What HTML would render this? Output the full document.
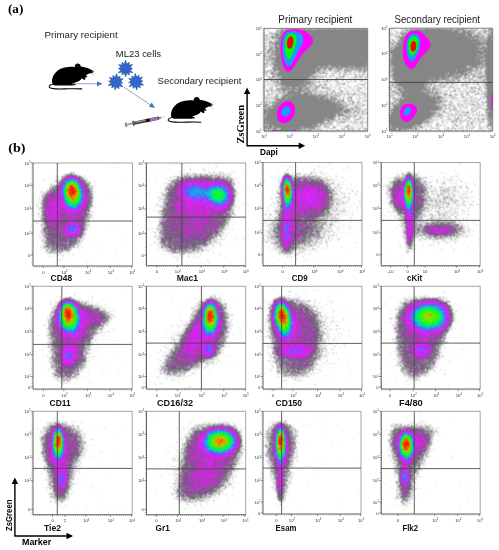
<!DOCTYPE html>
<html lang="en"><head><meta charset="utf-8"><title>Figure</title>
<style>html,body{margin:0;padding:0;background:#fff}svg{display:block}text{font-family:"Liberation Sans",sans-serif}.se{font-family:"Liberation Serif",serif;font-weight:bold}.b{font-weight:bold}.tk{font-size:4.2px;fill:#333}</style>
</head><body>
<svg width="499" height="550" viewBox="0 0 499 550">
<defs>
<radialGradient id="g" cx="0.5" cy="0.5" r="0.5" fx="0.5" fy="0.5">
<stop offset="0.000" stop-color="#fff" stop-opacity="1.000"/>
<stop offset="0.083" stop-color="#fff" stop-opacity="0.978"/>
<stop offset="0.167" stop-color="#fff" stop-opacity="0.913"/>
<stop offset="0.250" stop-color="#fff" stop-opacity="0.814"/>
<stop offset="0.333" stop-color="#fff" stop-opacity="0.693"/>
<stop offset="0.417" stop-color="#fff" stop-opacity="0.562"/>
<stop offset="0.500" stop-color="#fff" stop-opacity="0.433"/>
<stop offset="0.583" stop-color="#fff" stop-opacity="0.315"/>
<stop offset="0.667" stop-color="#fff" stop-opacity="0.215"/>
<stop offset="0.750" stop-color="#fff" stop-opacity="0.134"/>
<stop offset="0.833" stop-color="#fff" stop-opacity="0.073"/>
<stop offset="0.917" stop-color="#fff" stop-opacity="0.030"/>
<stop offset="1.000" stop-color="#fff" stop-opacity="0.000"/>
</radialGradient>
<radialGradient id="g1" cx="0.5" cy="0.5" r="0.5" fx="0.5" fy="0.4">
<stop offset="0.000" stop-color="#fff" stop-opacity="1.000"/>
<stop offset="0.083" stop-color="#fff" stop-opacity="0.978"/>
<stop offset="0.167" stop-color="#fff" stop-opacity="0.913"/>
<stop offset="0.250" stop-color="#fff" stop-opacity="0.814"/>
<stop offset="0.333" stop-color="#fff" stop-opacity="0.693"/>
<stop offset="0.417" stop-color="#fff" stop-opacity="0.562"/>
<stop offset="0.500" stop-color="#fff" stop-opacity="0.433"/>
<stop offset="0.583" stop-color="#fff" stop-opacity="0.315"/>
<stop offset="0.667" stop-color="#fff" stop-opacity="0.215"/>
<stop offset="0.750" stop-color="#fff" stop-opacity="0.134"/>
<stop offset="0.833" stop-color="#fff" stop-opacity="0.073"/>
<stop offset="0.917" stop-color="#fff" stop-opacity="0.030"/>
<stop offset="1.000" stop-color="#fff" stop-opacity="0.000"/>
</radialGradient>
<radialGradient id="g2" cx="0.5" cy="0.5" r="0.5" fx="0.5" fy="0.3">
<stop offset="0.000" stop-color="#fff" stop-opacity="1.000"/>
<stop offset="0.083" stop-color="#fff" stop-opacity="0.978"/>
<stop offset="0.167" stop-color="#fff" stop-opacity="0.913"/>
<stop offset="0.250" stop-color="#fff" stop-opacity="0.814"/>
<stop offset="0.333" stop-color="#fff" stop-opacity="0.693"/>
<stop offset="0.417" stop-color="#fff" stop-opacity="0.562"/>
<stop offset="0.500" stop-color="#fff" stop-opacity="0.433"/>
<stop offset="0.583" stop-color="#fff" stop-opacity="0.315"/>
<stop offset="0.667" stop-color="#fff" stop-opacity="0.215"/>
<stop offset="0.750" stop-color="#fff" stop-opacity="0.134"/>
<stop offset="0.833" stop-color="#fff" stop-opacity="0.073"/>
<stop offset="0.917" stop-color="#fff" stop-opacity="0.030"/>
<stop offset="1.000" stop-color="#fff" stop-opacity="0.000"/>
</radialGradient>
<radialGradient id="g3" cx="0.5" cy="0.5" r="0.5" fx="0.5" fy="0.2">
<stop offset="0.000" stop-color="#fff" stop-opacity="1.000"/>
<stop offset="0.083" stop-color="#fff" stop-opacity="0.978"/>
<stop offset="0.167" stop-color="#fff" stop-opacity="0.913"/>
<stop offset="0.250" stop-color="#fff" stop-opacity="0.814"/>
<stop offset="0.333" stop-color="#fff" stop-opacity="0.693"/>
<stop offset="0.417" stop-color="#fff" stop-opacity="0.562"/>
<stop offset="0.500" stop-color="#fff" stop-opacity="0.433"/>
<stop offset="0.583" stop-color="#fff" stop-opacity="0.315"/>
<stop offset="0.667" stop-color="#fff" stop-opacity="0.215"/>
<stop offset="0.750" stop-color="#fff" stop-opacity="0.134"/>
<stop offset="0.833" stop-color="#fff" stop-opacity="0.073"/>
<stop offset="0.917" stop-color="#fff" stop-opacity="0.030"/>
<stop offset="1.000" stop-color="#fff" stop-opacity="0.000"/>
</radialGradient>
<radialGradient id="p" cx="0.5" cy="0.5" r="0.5" fx="0.5" fy="0.5">
<stop offset="0.000" stop-color="#fff" stop-opacity="1.000"/>
<stop offset="0.083" stop-color="#fff" stop-opacity="0.990"/>
<stop offset="0.167" stop-color="#fff" stop-opacity="0.959"/>
<stop offset="0.250" stop-color="#fff" stop-opacity="0.908"/>
<stop offset="0.333" stop-color="#fff" stop-opacity="0.838"/>
<stop offset="0.417" stop-color="#fff" stop-opacity="0.751"/>
<stop offset="0.500" stop-color="#fff" stop-opacity="0.650"/>
<stop offset="0.583" stop-color="#fff" stop-opacity="0.536"/>
<stop offset="0.667" stop-color="#fff" stop-opacity="0.414"/>
<stop offset="0.750" stop-color="#fff" stop-opacity="0.289"/>
<stop offset="0.833" stop-color="#fff" stop-opacity="0.169"/>
<stop offset="0.917" stop-color="#fff" stop-opacity="0.064"/>
<stop offset="1.000" stop-color="#fff" stop-opacity="0.000"/>
</radialGradient>
<radialGradient id="p1" cx="0.5" cy="0.5" r="0.5" fx="0.5" fy="0.4">
<stop offset="0.000" stop-color="#fff" stop-opacity="1.000"/>
<stop offset="0.083" stop-color="#fff" stop-opacity="0.990"/>
<stop offset="0.167" stop-color="#fff" stop-opacity="0.959"/>
<stop offset="0.250" stop-color="#fff" stop-opacity="0.908"/>
<stop offset="0.333" stop-color="#fff" stop-opacity="0.838"/>
<stop offset="0.417" stop-color="#fff" stop-opacity="0.751"/>
<stop offset="0.500" stop-color="#fff" stop-opacity="0.650"/>
<stop offset="0.583" stop-color="#fff" stop-opacity="0.536"/>
<stop offset="0.667" stop-color="#fff" stop-opacity="0.414"/>
<stop offset="0.750" stop-color="#fff" stop-opacity="0.289"/>
<stop offset="0.833" stop-color="#fff" stop-opacity="0.169"/>
<stop offset="0.917" stop-color="#fff" stop-opacity="0.064"/>
<stop offset="1.000" stop-color="#fff" stop-opacity="0.000"/>
</radialGradient>
<radialGradient id="p2" cx="0.5" cy="0.5" r="0.5" fx="0.5" fy="0.3">
<stop offset="0.000" stop-color="#fff" stop-opacity="1.000"/>
<stop offset="0.083" stop-color="#fff" stop-opacity="0.990"/>
<stop offset="0.167" stop-color="#fff" stop-opacity="0.959"/>
<stop offset="0.250" stop-color="#fff" stop-opacity="0.908"/>
<stop offset="0.333" stop-color="#fff" stop-opacity="0.838"/>
<stop offset="0.417" stop-color="#fff" stop-opacity="0.751"/>
<stop offset="0.500" stop-color="#fff" stop-opacity="0.650"/>
<stop offset="0.583" stop-color="#fff" stop-opacity="0.536"/>
<stop offset="0.667" stop-color="#fff" stop-opacity="0.414"/>
<stop offset="0.750" stop-color="#fff" stop-opacity="0.289"/>
<stop offset="0.833" stop-color="#fff" stop-opacity="0.169"/>
<stop offset="0.917" stop-color="#fff" stop-opacity="0.064"/>
<stop offset="1.000" stop-color="#fff" stop-opacity="0.000"/>
</radialGradient>
<radialGradient id="p3" cx="0.5" cy="0.5" r="0.5" fx="0.5" fy="0.2">
<stop offset="0.000" stop-color="#fff" stop-opacity="1.000"/>
<stop offset="0.083" stop-color="#fff" stop-opacity="0.990"/>
<stop offset="0.167" stop-color="#fff" stop-opacity="0.959"/>
<stop offset="0.250" stop-color="#fff" stop-opacity="0.908"/>
<stop offset="0.333" stop-color="#fff" stop-opacity="0.838"/>
<stop offset="0.417" stop-color="#fff" stop-opacity="0.751"/>
<stop offset="0.500" stop-color="#fff" stop-opacity="0.650"/>
<stop offset="0.583" stop-color="#fff" stop-opacity="0.536"/>
<stop offset="0.667" stop-color="#fff" stop-opacity="0.414"/>
<stop offset="0.750" stop-color="#fff" stop-opacity="0.289"/>
<stop offset="0.833" stop-color="#fff" stop-opacity="0.169"/>
<stop offset="0.917" stop-color="#fff" stop-opacity="0.064"/>
<stop offset="1.000" stop-color="#fff" stop-opacity="0.000"/>
</radialGradient>
<radialGradient id="f" cx="0.5" cy="0.5" r="0.5" fx="0.5" fy="0.5">
<stop offset="0.000" stop-color="#fff" stop-opacity="1.000"/>
<stop offset="0.083" stop-color="#fff" stop-opacity="1.000"/>
<stop offset="0.167" stop-color="#fff" stop-opacity="1.000"/>
<stop offset="0.250" stop-color="#fff" stop-opacity="1.000"/>
<stop offset="0.333" stop-color="#fff" stop-opacity="1.000"/>
<stop offset="0.417" stop-color="#fff" stop-opacity="1.000"/>
<stop offset="0.500" stop-color="#fff" stop-opacity="1.000"/>
<stop offset="0.583" stop-color="#fff" stop-opacity="0.987"/>
<stop offset="0.667" stop-color="#fff" stop-opacity="0.843"/>
<stop offset="0.750" stop-color="#fff" stop-opacity="0.587"/>
<stop offset="0.833" stop-color="#fff" stop-opacity="0.302"/>
<stop offset="0.917" stop-color="#fff" stop-opacity="0.082"/>
<stop offset="1.000" stop-color="#fff" stop-opacity="0.000"/>
</radialGradient>
<radialGradient id="f1" cx="0.5" cy="0.5" r="0.5" fx="0.5" fy="0.4">
<stop offset="0.000" stop-color="#fff" stop-opacity="1.000"/>
<stop offset="0.083" stop-color="#fff" stop-opacity="1.000"/>
<stop offset="0.167" stop-color="#fff" stop-opacity="1.000"/>
<stop offset="0.250" stop-color="#fff" stop-opacity="1.000"/>
<stop offset="0.333" stop-color="#fff" stop-opacity="1.000"/>
<stop offset="0.417" stop-color="#fff" stop-opacity="1.000"/>
<stop offset="0.500" stop-color="#fff" stop-opacity="1.000"/>
<stop offset="0.583" stop-color="#fff" stop-opacity="0.987"/>
<stop offset="0.667" stop-color="#fff" stop-opacity="0.843"/>
<stop offset="0.750" stop-color="#fff" stop-opacity="0.587"/>
<stop offset="0.833" stop-color="#fff" stop-opacity="0.302"/>
<stop offset="0.917" stop-color="#fff" stop-opacity="0.082"/>
<stop offset="1.000" stop-color="#fff" stop-opacity="0.000"/>
</radialGradient>
<radialGradient id="f2" cx="0.5" cy="0.5" r="0.5" fx="0.5" fy="0.3">
<stop offset="0.000" stop-color="#fff" stop-opacity="1.000"/>
<stop offset="0.083" stop-color="#fff" stop-opacity="1.000"/>
<stop offset="0.167" stop-color="#fff" stop-opacity="1.000"/>
<stop offset="0.250" stop-color="#fff" stop-opacity="1.000"/>
<stop offset="0.333" stop-color="#fff" stop-opacity="1.000"/>
<stop offset="0.417" stop-color="#fff" stop-opacity="1.000"/>
<stop offset="0.500" stop-color="#fff" stop-opacity="1.000"/>
<stop offset="0.583" stop-color="#fff" stop-opacity="0.987"/>
<stop offset="0.667" stop-color="#fff" stop-opacity="0.843"/>
<stop offset="0.750" stop-color="#fff" stop-opacity="0.587"/>
<stop offset="0.833" stop-color="#fff" stop-opacity="0.302"/>
<stop offset="0.917" stop-color="#fff" stop-opacity="0.082"/>
<stop offset="1.000" stop-color="#fff" stop-opacity="0.000"/>
</radialGradient>
<radialGradient id="f3" cx="0.5" cy="0.5" r="0.5" fx="0.5" fy="0.2">
<stop offset="0.000" stop-color="#fff" stop-opacity="1.000"/>
<stop offset="0.083" stop-color="#fff" stop-opacity="1.000"/>
<stop offset="0.167" stop-color="#fff" stop-opacity="1.000"/>
<stop offset="0.250" stop-color="#fff" stop-opacity="1.000"/>
<stop offset="0.333" stop-color="#fff" stop-opacity="1.000"/>
<stop offset="0.417" stop-color="#fff" stop-opacity="1.000"/>
<stop offset="0.500" stop-color="#fff" stop-opacity="1.000"/>
<stop offset="0.583" stop-color="#fff" stop-opacity="0.987"/>
<stop offset="0.667" stop-color="#fff" stop-opacity="0.843"/>
<stop offset="0.750" stop-color="#fff" stop-opacity="0.587"/>
<stop offset="0.833" stop-color="#fff" stop-opacity="0.302"/>
<stop offset="0.917" stop-color="#fff" stop-opacity="0.082"/>
<stop offset="1.000" stop-color="#fff" stop-opacity="0.000"/>
</radialGradient>
<radialGradient id="kg"><stop offset="0.000" stop-color="#000" stop-opacity="1.000"/><stop offset="0.083" stop-color="#000" stop-opacity="0.978"/><stop offset="0.167" stop-color="#000" stop-opacity="0.913"/><stop offset="0.250" stop-color="#000" stop-opacity="0.814"/><stop offset="0.333" stop-color="#000" stop-opacity="0.693"/><stop offset="0.417" stop-color="#000" stop-opacity="0.562"/><stop offset="0.500" stop-color="#000" stop-opacity="0.433"/><stop offset="0.583" stop-color="#000" stop-opacity="0.315"/><stop offset="0.667" stop-color="#000" stop-opacity="0.215"/><stop offset="0.750" stop-color="#000" stop-opacity="0.134"/><stop offset="0.833" stop-color="#000" stop-opacity="0.073"/><stop offset="0.917" stop-color="#000" stop-opacity="0.030"/><stop offset="1.000" stop-color="#000" stop-opacity="0.000"/></radialGradient>
<filter id="pb" x="-20%" y="-20%" width="140%" height="140%"><feGaussianBlur stdDeviation="3.2"/></filter>
<filter id="pbw" x="-30%" y="-30%" width="160%" height="160%"><feGaussianBlur stdDeviation="6"/></filter>
<filter id="pbx" x="-40%" y="-40%" width="180%" height="180%"><feGaussianBlur stdDeviation="9"/></filter>
<filter id="fb" filterUnits="userSpaceOnUse" x="0" y="155" width="499" height="365" color-interpolation-filters="sRGB">
<feTurbulence type="fractalNoise" baseFrequency="1.37 1.71" numOctaves="1" seed="3" result="t1"/>
<feTurbulence type="fractalNoise" baseFrequency="1.83 1.29" numOctaves="1" seed="14" result="t2"/>
<feComposite in="t1" in2="t2" operator="arithmetic" k2="0.5" k3="0.5" result="t"/>
<feColorMatrix in="t" type="matrix" values="2.2 0 0 0 -0.600  2.2 0 0 0 -0.600  2.2 0 0 0 -0.600  0 0 0 0 1" result="n"/>
<feComposite in="SourceGraphic" in2="n" operator="arithmetic" k1="-0.360" k2="1.180" k3="0.360" k4="-0.180" result="v1"/>
<feColorMatrix in="v1" type="matrix" values="0 0 0 0 0  0 0 0 0 0  0 0 0 0 0  1 0 0 0 0" result="m0"/>
<feComponentTransfer in="m0" result="m"><feFuncA type="table" tableValues="0.00 0.00 0.00 0.00 0.00 0.00 0.00 0.00 0.00 0.00 0.00 0.00 0.00 0.00 0.00 0.00 0.00 0.00 0.10 0.20 0.30 0.40 0.50 0.60 0.70 0.80 0.90 1.00 1.00 1.00 1.00 1.00 1.00 1.00 1.00 1.00 1.00 1.00 1.00 1.00 1.00 1.00 1.00 1.00 1.00 1.00 1.00 1.00 1.00 1.00 1.00 1.00 1.00 1.00 1.00 1.00 1.00 1.00 1.00 1.00 1.00 1.00 1.00 1.00 1.00 1.00 1.00 1.00 1.00 1.00 1.00 1.00 1.00 1.00 1.00 1.00 1.00 1.00 1.00 1.00 1.00 1.00 1.00 1.00 1.00 1.00 1.00 1.00 1.00 1.00 1.00 1.00 1.00 1.00 1.00 1.00 1.00 1.00 1.00 1.00 1.00"/></feComponentTransfer>
<feColorMatrix in="t" type="matrix" values="0 2.8 0 0 -0.900  0 2.8 0 0 -0.900  0 2.8 0 0 -0.900  0 0 0 0 1" result="n2"/>
<feComposite in="SourceGraphic" in2="n2" operator="arithmetic" k1="-1" k2="0.5" k3="1" k4="0" result="w1"/>
<feComposite in="SourceGraphic" in2="w1" operator="arithmetic" k1="-1" k2="0.5" k3="1" k4="0" result="w2"/>
<feComposite in="SourceGraphic" in2="w2" operator="arithmetic" k1="2.200" k2="-0.100" k3="0" k4="0" result="v0"/>
<feColorMatrix in="t2" type="matrix" values="0 0 2.0 0 -0.500  0 0 2.0 0 -0.500  0 0 2.0 0 -0.500  0 0 0 0 1" result="n3"/>
<feComposite in="v0" in2="n3" operator="arithmetic" k1="0" k2="1" k3="0.120" k4="-0.060" result="v"/>
<feComponentTransfer in="v" result="cc"><feFuncR type="table" tableValues="0.490 0.489 0.488 0.486 0.485 0.484 0.483 0.481 0.480 0.479 0.478 0.476 0.475 0.474 0.473 0.471 0.470 0.469 0.468 0.466 0.465 0.464 0.463 0.456 0.449 0.442 0.435 0.427 0.420 0.413 0.406 0.399 0.392 0.425 0.458 0.490 0.523 0.556 0.588 0.663 0.737 0.812 0.886 0.961 0.959 0.956 0.954 0.952 0.950 0.948 0.946 0.943 0.941 0.856 0.771 0.686 0.601 0.516 0.431 0.379 0.327 0.275 0.222 0.170 0.118 0.098 0.078 0.059 0.039 0.020 0.000 0.000 0.000 0.000 0.000 0.000 0.000 0.034 0.067 0.101 0.134 0.168 0.202 0.235 0.373 0.510 0.647 0.784 0.922 0.937 0.953 0.969 0.984 1.000 0.989 0.978 0.966 0.955 0.944 0.933 0.922"/><feFuncG type="table" tableValues="0.490 0.489 0.488 0.486 0.485 0.484 0.483 0.481 0.480 0.479 0.478 0.476 0.475 0.474 0.473 0.471 0.470 0.469 0.468 0.466 0.465 0.464 0.463 0.453 0.444 0.435 0.425 0.416 0.406 0.397 0.387 0.378 0.369 0.353 0.337 0.322 0.306 0.290 0.275 0.235 0.196 0.157 0.118 0.078 0.083 0.087 0.092 0.096 0.100 0.105 0.109 0.113 0.118 0.144 0.170 0.196 0.222 0.248 0.275 0.320 0.366 0.412 0.458 0.503 0.549 0.598 0.647 0.696 0.745 0.794 0.843 0.869 0.895 0.922 0.948 0.974 1.000 0.997 0.994 0.992 0.989 0.986 0.983 0.980 0.933 0.886 0.839 0.792 0.745 0.635 0.525 0.416 0.306 0.196 0.174 0.151 0.129 0.106 0.084 0.062 0.039"/><feFuncB type="table" tableValues="0.490 0.489 0.488 0.488 0.487 0.486 0.485 0.484 0.483 0.482 0.481 0.480 0.480 0.479 0.478 0.477 0.476 0.475 0.474 0.473 0.472 0.471 0.471 0.465 0.460 0.454 0.449 0.443 0.438 0.432 0.427 0.421 0.416 0.464 0.512 0.561 0.609 0.658 0.706 0.757 0.808 0.859 0.910 0.961 0.963 0.965 0.967 0.969 0.972 0.974 0.976 0.978 0.980 0.984 0.987 0.990 0.993 0.997 1.000 1.000 1.000 1.000 1.000 1.000 1.000 0.977 0.954 0.931 0.908 0.886 0.863 0.739 0.614 0.490 0.366 0.242 0.118 0.101 0.084 0.067 0.050 0.034 0.017 0.000 0.000 0.000 0.000 0.000 0.000 0.000 0.000 0.000 0.000 0.000 0.000 0.000 0.000 0.000 0.000 0.000 0.000"/></feComponentTransfer>
<feComposite in="cc" in2="m" operator="in" result="c"/>
<feConvolveMatrix in="c" order="3" kernelMatrix="1 2 1 2 6 2 1 2 1" divisor="18" edgeMode="duplicate" preserveAlpha="false"/>
</filter>
<filter id="fa" filterUnits="userSpaceOnUse" x="255" y="20" width="244" height="115" color-interpolation-filters="sRGB">
<feTurbulence type="fractalNoise" baseFrequency="1.37 1.71" numOctaves="1" seed="7" result="t1"/>
<feTurbulence type="fractalNoise" baseFrequency="1.83 1.29" numOctaves="1" seed="18" result="t2"/>
<feComposite in="t1" in2="t2" operator="arithmetic" k2="0.5" k3="0.5" result="t"/>
<feColorMatrix in="t" type="matrix" values="2.2 0 0 0 -0.600  2.2 0 0 0 -0.600  2.2 0 0 0 -0.600  0 0 0 0 1" result="n"/>
<feComposite in="SourceGraphic" in2="n" operator="arithmetic" k1="-0.800" k2="1.400" k3="0.800" k4="-0.400" result="v"/>
<feComponentTransfer in="v" result="c"><feFuncR type="table" tableValues="1.000 1.000 1.000 1.000 1.000 1.000 1.000 1.000 1.000 1.000 1.000 1.000 1.000 1.000 1.000 1.000 1.000 1.000 0.922 0.843 0.765 0.686 0.608 0.529 0.529 0.529 0.529 0.529 0.529 0.529 0.529 0.529 0.529 0.529 0.529 0.529 0.529 0.529 0.529 0.529 0.529 0.529 0.529 0.529 0.529 0.529 0.529 0.529 0.529 0.529 0.529 0.529 0.529 0.529 0.529 0.529 0.529 0.529 0.529 0.529 0.529 0.529 0.529 0.529 0.529 0.529 0.529 0.529 0.529 0.529 0.529 0.529 0.529 0.529 0.529 0.529 0.529 0.529 0.529 0.529 0.529 0.529 0.529 0.529 0.529 0.529 0.529 0.529 0.529 0.529 0.529 0.529 0.529 0.529 0.529 0.529 0.529 0.529 0.529 0.529 0.529"/><feFuncG type="table" tableValues="1.000 1.000 1.000 1.000 1.000 1.000 1.000 1.000 1.000 1.000 1.000 1.000 1.000 1.000 1.000 1.000 1.000 1.000 0.922 0.843 0.765 0.686 0.608 0.529 0.529 0.529 0.529 0.529 0.529 0.529 0.529 0.529 0.529 0.529 0.529 0.529 0.529 0.529 0.529 0.529 0.529 0.529 0.529 0.529 0.529 0.529 0.529 0.529 0.529 0.529 0.529 0.529 0.529 0.529 0.529 0.529 0.529 0.529 0.529 0.529 0.529 0.529 0.529 0.529 0.529 0.529 0.529 0.529 0.529 0.529 0.529 0.529 0.529 0.529 0.529 0.529 0.529 0.529 0.529 0.529 0.529 0.529 0.529 0.529 0.529 0.529 0.529 0.529 0.529 0.529 0.529 0.529 0.529 0.529 0.529 0.529 0.529 0.529 0.529 0.529 0.529"/><feFuncB type="table" tableValues="1.000 1.000 1.000 1.000 1.000 1.000 1.000 1.000 1.000 1.000 1.000 1.000 1.000 1.000 1.000 1.000 1.000 1.000 0.922 0.843 0.765 0.686 0.608 0.529 0.529 0.529 0.529 0.529 0.529 0.529 0.529 0.529 0.529 0.529 0.529 0.529 0.529 0.529 0.529 0.529 0.529 0.529 0.529 0.529 0.529 0.529 0.529 0.529 0.529 0.529 0.529 0.529 0.529 0.529 0.529 0.529 0.529 0.529 0.529 0.529 0.529 0.529 0.529 0.529 0.529 0.529 0.529 0.529 0.529 0.529 0.529 0.529 0.529 0.529 0.529 0.529 0.529 0.529 0.529 0.529 0.529 0.529 0.529 0.529 0.529 0.529 0.529 0.529 0.529 0.529 0.529 0.529 0.529 0.529 0.529 0.529 0.529 0.529 0.529 0.529 0.529"/></feComponentTransfer>
<feConvolveMatrix in="c" order="3" kernelMatrix="1 2 1 2 4 2 1 2 1" divisor="16" edgeMode="duplicate" preserveAlpha="false"/>
</filter>
<clipPath id="cb0"><rect x="33" y="163" width="99.5" height="103.0"/></clipPath>
<clipPath id="cb1"><rect x="146.5" y="163" width="99.2" height="102.7"/></clipPath>
<clipPath id="cb2"><rect x="263" y="162.5" width="99.0" height="103.2"/></clipPath>
<clipPath id="cb3"><rect x="381.3" y="162.5" width="98.9" height="103.2"/></clipPath>
<clipPath id="cb4"><rect x="33" y="286.3" width="99.2" height="102.7"/></clipPath>
<clipPath id="cb5"><rect x="146.5" y="286.3" width="99.2" height="102.7"/></clipPath>
<clipPath id="cb6"><rect x="263" y="286.3" width="99.0" height="102.7"/></clipPath>
<clipPath id="cb7"><rect x="381.3" y="286.3" width="98.9" height="102.7"/></clipPath>
<clipPath id="cb8"><rect x="33" y="411.3" width="99.2" height="103.4"/></clipPath>
<clipPath id="cb9"><rect x="146.5" y="411.3" width="99.2" height="103.4"/></clipPath>
<clipPath id="cb10"><rect x="263" y="411.3" width="98.0" height="102.7"/></clipPath>
<clipPath id="cb11"><rect x="381.3" y="411.3" width="98.9" height="102.7"/></clipPath>
<clipPath id="ca0"><rect x="264" y="28.4" width="103.7" height="102.6"/></clipPath>
<clipPath id="ca1"><rect x="389.6" y="28.2" width="103.1" height="102.8"/></clipPath>
<clipPath id="cball"><rect x="33" y="163" width="99.5" height="103.0"/><rect x="146.5" y="163" width="99.2" height="102.7"/><rect x="263" y="162.5" width="99.0" height="103.2"/><rect x="381.3" y="162.5" width="98.9" height="103.2"/><rect x="33" y="286.3" width="99.2" height="102.7"/><rect x="146.5" y="286.3" width="99.2" height="102.7"/><rect x="263" y="286.3" width="99.0" height="102.7"/><rect x="381.3" y="286.3" width="98.9" height="102.7"/><rect x="33" y="411.3" width="99.2" height="103.4"/><rect x="146.5" y="411.3" width="99.2" height="103.4"/><rect x="263" y="411.3" width="98.0" height="102.7"/><rect x="381.3" y="411.3" width="98.9" height="102.7"/></clipPath>
<clipPath id="caall"><rect x="264" y="28.4" width="103.7" height="102.6"/><rect x="389.6" y="28.2" width="103.1" height="102.8"/></clipPath>
</defs>
<rect width="499" height="550" fill="#fff"/>
<g clip-path="url(#cball)"><g filter="url(#fb)">
<rect x="0" y="155" width="499" height="365" fill="#000"/>
<g clip-path="url(#cb0)">
<rect x="33" y="163" width="99.5" height="103.0" fill="#fff" fill-opacity="0.03"/>
<path d="M73.9 175.1C77.8 176.2 87.0 178.4 90.1 182.6C93.3 186.7 92.9 194.7 92.6 200.1C92.4 205.5 89.9 210.5 88.9 215.1C87.8 219.7 87.4 223.9 86.4 227.7C85.3 231.4 84.5 234.3 82.6 237.7C80.7 241.0 78.5 245.2 75.1 247.7C71.8 250.2 66.8 251.7 62.6 252.7C58.4 253.7 53.0 254.4 50.1 254.0C47.1 253.5 46.3 252.9 45.1 250.2C43.8 247.5 43.2 243.9 42.5 237.7C41.9 231.4 41.7 218.9 41.3 212.6C40.9 206.4 39.6 203.2 40.0 200.1C40.5 197.0 41.7 195.9 43.8 193.8C45.9 191.8 50.1 189.9 52.6 187.6C55.1 185.3 56.5 182.1 58.8 180.1C61.1 178.1 63.8 176.4 66.3 175.6C68.8 174.7 69.9 173.9 73.9 175.1Z" fill="#fff" fill-opacity="0.1" filter="url(#pbw)"/>
<path d="M73.9 175.1C77.8 176.2 87.0 178.4 90.1 182.6C93.3 186.7 92.9 194.7 92.6 200.1C92.4 205.5 89.9 210.5 88.9 215.1C87.8 219.7 87.4 223.9 86.4 227.7C85.3 231.4 84.5 234.3 82.6 237.7C80.7 241.0 78.5 245.2 75.1 247.7C71.8 250.2 66.8 251.7 62.6 252.7C58.4 253.7 53.0 254.4 50.1 254.0C47.1 253.5 46.3 252.9 45.1 250.2C43.8 247.5 43.2 243.9 42.5 237.7C41.9 231.4 41.7 218.9 41.3 212.6C40.9 206.4 39.6 203.2 40.0 200.1C40.5 197.0 41.7 195.9 43.8 193.8C45.9 191.8 50.1 189.9 52.6 187.6C55.1 185.3 56.5 182.1 58.8 180.1C61.1 178.1 63.8 176.4 66.3 175.6C68.8 174.7 69.9 173.9 73.9 175.1Z" fill="#fff" fill-opacity="0.155" filter="url(#pb)"/>
<ellipse cx="66.3" cy="214.6" rx="52.6" ry="73.9" fill="url(#g)" fill-opacity="0.1" transform="rotate(8 66.3 214.6)"/>
<ellipse cx="52.6" cy="210.1" rx="12.0" ry="25.1" fill="url(#p)" fill-opacity="0.2"/>
<ellipse cx="73.9" cy="197.6" rx="21.3" ry="27.6" fill="url(#p)" fill-opacity="0.22" transform="rotate(-8 73.9 197.6)"/>
<ellipse cx="73.1" cy="228.9" rx="12.0" ry="10.5" fill="url(#p)" fill-opacity="0.42"/>
<ellipse cx="72.6" cy="194.1" rx="13.8" ry="21.5" fill="url(#p1)" fill-opacity="0.94" transform="rotate(-8 72.6 194.1)"/>
</g>
<g clip-path="url(#cb1)">
<rect x="146.5" y="163" width="99.2" height="102.7" fill="#fff" fill-opacity="0.03"/>
<path d="M172.6 178.8C178.4 175.5 190.5 175.7 200.1 175.1C209.7 174.4 224.4 173.8 230.2 175.1C236.0 176.3 234.6 177.1 235.2 182.6C235.8 188.0 235.2 200.9 234.0 207.6C232.7 214.3 230.8 217.6 227.7 222.6C224.6 227.7 219.8 233.1 215.2 237.7C210.6 242.3 206.0 247.5 200.1 250.2C194.3 252.9 186.4 254.0 180.1 254.0C173.8 254.0 166.1 252.9 162.6 250.2C159.0 247.5 159.0 243.9 158.8 237.7C158.6 231.4 160.3 219.7 161.3 212.6C162.4 205.5 163.2 200.7 165.1 195.1C166.9 189.5 166.7 182.1 172.6 178.8Z" fill="#fff" fill-opacity="0.15" filter="url(#pbx)"/>
<path d="M172.6 178.8C178.4 175.5 190.5 175.7 200.1 175.1C209.7 174.4 224.4 173.8 230.2 175.1C236.0 176.3 234.6 177.1 235.2 182.6C235.8 188.0 235.2 200.9 234.0 207.6C232.7 214.3 230.8 217.6 227.7 222.6C224.6 227.7 219.8 233.1 215.2 237.7C210.6 242.3 206.0 247.5 200.1 250.2C194.3 252.9 186.4 254.0 180.1 254.0C173.8 254.0 166.1 252.9 162.6 250.2C159.0 247.5 159.0 243.9 158.8 237.7C158.6 231.4 160.3 219.7 161.3 212.6C162.4 205.5 163.2 200.7 165.1 195.1C166.9 189.5 166.7 182.1 172.6 178.8Z" fill="#fff" fill-opacity="0.14" filter="url(#pb)"/>
<ellipse cx="196.4" cy="215.6" rx="67.6" ry="67.6" fill="url(#g)" fill-opacity="0.12" transform="rotate(-35 196.4 215.6)"/>
<ellipse cx="201.4" cy="196.3" rx="37.6" ry="25.1" fill="url(#p)" fill-opacity="0.16"/>
<ellipse cx="195.6" cy="228.9" rx="17.5" ry="11.3" fill="url(#p)" fill-opacity="0.05" transform="rotate(-20 195.6 228.9)"/>
<ellipse cx="204.6" cy="192.1" rx="30.6" ry="13.0" fill="url(#p)" fill-opacity="0.36" transform="rotate(6 204.6 192.1)"/>
<ellipse cx="188.9" cy="190.1" rx="12.5" ry="13.8" fill="url(#p)" fill-opacity="0.18"/>
<ellipse cx="220.7" cy="195.6" rx="15.5" ry="18.0" fill="url(#p)" fill-opacity="0.52"/>
</g>
<g clip-path="url(#cb2)">
<rect x="263" y="162.5" width="99.0" height="103.2" fill="#fff" fill-opacity="0.03"/>
<path d="M281.3 177.6C282.6 172.3 285.3 174.0 287.6 173.8C289.9 173.6 290.9 175.9 295.1 176.3C299.3 176.7 307.3 175.2 312.6 176.3C318.0 177.4 324.1 179.7 327.2 183.1C330.2 186.4 330.7 191.9 330.7 196.3C330.6 200.8 329.2 206.2 326.7 209.6C324.1 213.0 320.1 215.5 315.6 216.6C311.2 217.8 303.6 215.4 300.1 216.4C296.6 217.4 296.1 217.0 294.6 222.6C293.1 228.3 292.7 245.0 291.3 250.2C290.0 255.4 287.8 254.0 286.3 254.0C284.9 254.0 283.4 255.0 282.6 250.2C281.7 245.4 281.7 232.7 281.3 225.2C280.9 217.6 280.1 213.0 280.1 205.1C280.1 197.2 280.1 182.8 281.3 177.6Z" fill="#fff" fill-opacity="0.1" filter="url(#pbw)"/>
<path d="M281.3 177.6C282.6 172.3 285.3 174.0 287.6 173.8C289.9 173.6 290.9 175.9 295.1 176.3C299.3 176.7 307.3 175.2 312.6 176.3C318.0 177.4 324.1 179.7 327.2 183.1C330.2 186.4 330.7 191.9 330.7 196.3C330.6 200.8 329.2 206.2 326.7 209.6C324.1 213.0 320.1 215.5 315.6 216.6C311.2 217.8 303.6 215.4 300.1 216.4C296.6 217.4 296.1 217.0 294.6 222.6C293.1 228.3 292.7 245.0 291.3 250.2C290.0 255.4 287.8 254.0 286.3 254.0C284.9 254.0 283.4 255.0 282.6 250.2C281.7 245.4 281.7 232.7 281.3 225.2C280.9 217.6 280.1 213.0 280.1 205.1C280.1 197.2 280.1 182.8 281.3 177.6Z" fill="#fff" fill-opacity="0.15" filter="url(#pb)"/>
<ellipse cx="318.9" cy="203.9" rx="82.7" ry="60.1" fill="url(#g)" fill-opacity="0.16"/>
<ellipse cx="293.8" cy="233.9" rx="57.6" ry="37.6" fill="url(#g)" fill-opacity="0.26"/>
<ellipse cx="308.9" cy="195.6" rx="20.5" ry="15.0" fill="url(#p)" fill-opacity="0.21"/>
<ellipse cx="286.3" cy="225.2" rx="5.0" ry="31.3" fill="url(#p)" fill-opacity="0.3"/>
<ellipse cx="287.6" cy="193.1" rx="7.5" ry="21.3" fill="url(#p1)" fill-opacity="0.94" transform="rotate(-3 287.6 193.1)"/>
</g>
<g clip-path="url(#cb3)">
<rect x="381.3" y="162.5" width="98.9" height="103.2" fill="#fff" fill-opacity="0.03"/>
<path d="M387.5 182.6C388.9 179.4 391.7 177.9 395.1 176.3C398.4 174.7 403.8 173.3 407.6 173.0C411.3 172.8 414.9 173.5 417.6 175.1C420.3 176.6 422.8 177.1 423.9 182.6C424.9 188.0 424.9 201.8 423.9 207.6C422.8 213.5 419.1 213.5 417.6 217.6C416.1 221.8 415.4 227.2 414.6 232.7C413.8 238.1 413.5 246.8 412.6 250.2C411.6 253.6 410.0 253.2 408.8 253.2C407.7 253.2 406.3 253.6 405.6 250.2C404.9 246.8 405.5 238.1 404.6 232.7C403.7 227.2 402.3 221.8 400.1 217.6C397.8 213.5 393.5 211.4 391.3 207.6C389.1 203.9 387.7 199.3 387.0 195.1C386.4 190.9 386.2 185.7 387.5 182.6Z" fill="#fff" fill-opacity="0.1" filter="url(#pbw)"/>
<path d="M387.5 182.6C388.9 179.4 391.7 177.9 395.1 176.3C398.4 174.7 403.8 173.3 407.6 173.0C411.3 172.8 414.9 173.5 417.6 175.1C420.3 176.6 422.8 177.1 423.9 182.6C424.9 188.0 424.9 201.8 423.9 207.6C422.8 213.5 419.1 213.5 417.6 217.6C416.1 221.8 415.4 227.2 414.6 232.7C413.8 238.1 413.5 246.8 412.6 250.2C411.6 253.6 410.0 253.2 408.8 253.2C407.7 253.2 406.3 253.6 405.6 250.2C404.9 246.8 405.5 238.1 404.6 232.7C403.7 227.2 402.3 221.8 400.1 217.6C397.8 213.5 393.5 211.4 391.3 207.6C389.1 203.9 387.7 199.3 387.0 195.1C386.4 190.9 386.2 185.7 387.5 182.6Z" fill="#fff" fill-opacity="0.15" filter="url(#pb)"/>
<ellipse cx="442.6" cy="200.1" rx="67.6" ry="50.1" fill="url(#g)" fill-opacity="0.16"/>
<ellipse cx="440.1" cy="232.7" rx="57.6" ry="27.6" fill="url(#g)" fill-opacity="0.13"/>
<ellipse cx="440.6" cy="230.2" rx="40.1" ry="13.8" fill="url(#g)" fill-opacity="0.22"/>
<ellipse cx="438.9" cy="229.7" rx="20.5" ry="6.0" fill="url(#p)" fill-opacity="0.13"/>
<ellipse cx="400.1" cy="196.3" rx="10.0" ry="20.0" fill="url(#p)" fill-opacity="0.22"/>
<ellipse cx="409.6" cy="225.2" rx="5.0" ry="30.1" fill="url(#p)" fill-opacity="0.32"/>
<ellipse cx="408.8" cy="194.6" rx="7.0" ry="23.0" fill="url(#p1)" fill-opacity="0.94"/>
</g>
<g clip-path="url(#cb4)">
<rect x="33" y="286.3" width="99.2" height="102.7" fill="#fff" fill-opacity="0.03"/>
<path d="M67.6 298.8C71.6 299.2 79.3 301.1 85.1 302.6C91.0 304.0 98.3 305.7 102.7 307.6C107.0 309.4 109.8 312.2 111.4 313.8C113.1 315.5 113.7 315.7 112.7 317.6C111.6 319.5 108.1 322.2 105.2 325.1C102.2 328.0 98.1 331.4 95.2 335.1C92.2 338.9 89.1 343.5 87.6 347.6C86.2 351.8 87.6 356.0 86.4 360.2C85.1 364.3 82.8 369.4 80.1 372.7C77.4 376.0 73.4 378.7 70.1 380.2C66.8 381.7 62.8 382.3 60.1 381.5C57.4 380.6 55.3 378.7 53.8 375.2C52.4 371.7 51.9 366.4 51.3 360.2C50.7 353.9 50.5 344.3 50.1 337.6C49.6 330.9 48.2 325.1 48.8 320.1C49.4 315.1 51.7 310.9 53.8 307.6C55.9 304.2 59.0 301.5 61.3 300.1C63.6 298.6 63.6 298.4 67.6 298.8Z" fill="#fff" fill-opacity="0.1" filter="url(#pbw)"/>
<path d="M67.6 298.8C71.6 299.2 79.3 301.1 85.1 302.6C91.0 304.0 98.3 305.7 102.7 307.6C107.0 309.4 109.8 312.2 111.4 313.8C113.1 315.5 113.7 315.7 112.7 317.6C111.6 319.5 108.1 322.2 105.2 325.1C102.2 328.0 98.1 331.4 95.2 335.1C92.2 338.9 89.1 343.5 87.6 347.6C86.2 351.8 87.6 356.0 86.4 360.2C85.1 364.3 82.8 369.4 80.1 372.7C77.4 376.0 73.4 378.7 70.1 380.2C66.8 381.7 62.8 382.3 60.1 381.5C57.4 380.6 55.3 378.7 53.8 375.2C52.4 371.7 51.9 366.4 51.3 360.2C50.7 353.9 50.5 344.3 50.1 337.6C49.6 330.9 48.2 325.1 48.8 320.1C49.4 315.1 51.7 310.9 53.8 307.6C55.9 304.2 59.0 301.5 61.3 300.1C63.6 298.6 63.6 298.4 67.6 298.8Z" fill="#fff" fill-opacity="0.155" filter="url(#pb)"/>
<ellipse cx="73.9" cy="338.9" rx="57.6" ry="75.2" fill="url(#g)" fill-opacity="0.09"/>
<ellipse cx="87.6" cy="316.3" rx="25.1" ry="11.3" fill="url(#p)" fill-opacity="0.14" transform="rotate(12 87.6 316.3)"/>
<ellipse cx="68.8" cy="355.2" rx="11.3" ry="15.0" fill="url(#p)" fill-opacity="0.38"/>
<ellipse cx="71.4" cy="323.8" rx="21.3" ry="25.1" fill="url(#p)" fill-opacity="0.22"/>
<ellipse cx="74.6" cy="326.4" rx="10.5" ry="13.8" fill="url(#p)" fill-opacity="0.22" transform="rotate(-20 74.6 326.4)"/>
<ellipse cx="68.1" cy="316.6" rx="14.0" ry="21.0" fill="url(#p1)" fill-opacity="0.94"/>
</g>
<g clip-path="url(#cb5)">
<rect x="146.5" y="286.3" width="99.2" height="102.7" fill="#fff" fill-opacity="0.03"/>
<path d="M200.1 301.3C202.6 299.0 206.6 296.5 210.2 296.3C213.7 296.1 218.5 297.8 221.4 300.1C224.4 302.3 226.4 305.9 227.7 310.1C228.9 314.2 229.4 320.1 228.9 325.1C228.5 330.1 226.9 335.1 225.2 340.1C223.5 345.1 221.0 351.6 218.9 355.2C216.8 358.7 215.0 360.4 212.7 361.4C210.4 362.5 208.5 360.4 205.2 361.4C201.8 362.5 197.6 365.4 192.6 367.7C187.6 370.0 180.1 374.2 175.1 375.2C170.1 376.2 165.1 374.8 162.6 373.9C160.1 373.1 159.2 372.9 160.1 370.2C160.9 367.5 164.2 362.3 167.6 357.7C170.9 353.1 176.3 348.1 180.1 342.6C183.9 337.2 187.5 330.5 190.1 325.1C192.7 319.7 194.0 314.0 195.6 310.1C197.3 306.1 197.7 303.6 200.1 301.3Z" fill="#fff" fill-opacity="0.12" filter="url(#pbx)"/>
<path d="M200.1 301.3C202.6 299.0 206.6 296.5 210.2 296.3C213.7 296.1 218.5 297.8 221.4 300.1C224.4 302.3 226.4 305.9 227.7 310.1C228.9 314.2 229.4 320.1 228.9 325.1C228.5 330.1 226.9 335.1 225.2 340.1C223.5 345.1 221.0 351.6 218.9 355.2C216.8 358.7 215.0 360.4 212.7 361.4C210.4 362.5 208.5 360.4 205.2 361.4C201.8 362.5 197.6 365.4 192.6 367.7C187.6 370.0 180.1 374.2 175.1 375.2C170.1 376.2 165.1 374.8 162.6 373.9C160.1 373.1 159.2 372.9 160.1 370.2C160.9 367.5 164.2 362.3 167.6 357.7C170.9 353.1 176.3 348.1 180.1 342.6C183.9 337.2 187.5 330.5 190.1 325.1C192.7 319.7 194.0 314.0 195.6 310.1C197.3 306.1 197.7 303.6 200.1 301.3Z" fill="#fff" fill-opacity="0.15" filter="url(#pb)"/>
<ellipse cx="193.9" cy="343.9" rx="75.2" ry="42.6" fill="url(#g)" fill-opacity="0.15" transform="rotate(-45 193.9 343.9)"/>
<ellipse cx="195.6" cy="337.6" rx="15.0" ry="27.6" fill="url(#p)" fill-opacity="0.18" transform="rotate(15 195.6 337.6)"/>
<ellipse cx="210.7" cy="320.1" rx="15.5" ry="26.3" fill="url(#p)" fill-opacity="0.22"/>
<ellipse cx="208.9" cy="350.2" rx="9.0" ry="10.0" fill="url(#p)" fill-opacity="0.42"/>
<ellipse cx="210.4" cy="319.1" rx="10.5" ry="22.0" fill="url(#p1)" fill-opacity="0.94"/>
</g>
<g clip-path="url(#cb6)">
<rect x="263" y="286.3" width="99.0" height="102.7" fill="#fff" fill-opacity="0.03"/>
<path d="M270.0 302.6C271.2 299.2 273.4 298.3 276.3 297.5C279.2 296.8 283.6 297.4 287.6 298.0C291.5 298.7 295.9 299.3 300.1 301.3C304.3 303.3 309.7 306.1 312.6 310.1C315.5 314.0 316.7 319.3 317.6 325.1C318.6 330.9 318.5 339.3 318.1 345.1C317.8 351.0 317.0 355.6 315.6 360.2C314.3 364.8 313.5 369.8 310.1 372.7C306.7 375.6 300.1 377.3 295.1 377.7C290.1 378.1 283.6 378.1 280.1 375.2C276.5 372.3 275.3 366.4 273.8 360.2C272.3 353.9 272.0 344.7 271.3 337.6C270.6 330.5 269.7 323.4 269.5 317.6C269.3 311.7 268.9 305.9 270.0 302.6Z" fill="#fff" fill-opacity="0.11" filter="url(#pbx)"/>
<path d="M270.0 302.6C271.2 299.2 273.4 298.3 276.3 297.5C279.2 296.8 283.6 297.4 287.6 298.0C291.5 298.7 295.9 299.3 300.1 301.3C304.3 303.3 309.7 306.1 312.6 310.1C315.5 314.0 316.7 319.3 317.6 325.1C318.6 330.9 318.5 339.3 318.1 345.1C317.8 351.0 317.0 355.6 315.6 360.2C314.3 364.8 313.5 369.8 310.1 372.7C306.7 375.6 300.1 377.3 295.1 377.7C290.1 378.1 283.6 378.1 280.1 375.2C276.5 372.3 275.3 366.4 273.8 360.2C272.3 353.9 272.0 344.7 271.3 337.6C270.6 330.5 269.7 323.4 269.5 317.6C269.3 311.7 268.9 305.9 270.0 302.6Z" fill="#fff" fill-opacity="0.145" filter="url(#pb)"/>
<ellipse cx="306.4" cy="335.1" rx="62.6" ry="65.1" fill="url(#g)" fill-opacity="0.17"/>
<ellipse cx="283.8" cy="322.6" rx="17.5" ry="28.8" fill="url(#p)" fill-opacity="0.24" transform="rotate(-10 283.8 322.6)"/>
<ellipse cx="294.6" cy="350.7" rx="22.0" ry="8.5" fill="url(#p)" fill-opacity="0.34"/>
<ellipse cx="282.8" cy="319.6" rx="11.8" ry="23.8" fill="url(#p1)" fill-opacity="0.94" transform="rotate(-10 282.8 319.6)"/>
</g>
<g clip-path="url(#cb7)">
<rect x="381.3" y="286.3" width="98.9" height="102.7" fill="#fff" fill-opacity="0.03"/>
<path d="M407.6 298.8C414.7 298.4 438.1 297.8 445.2 298.8C452.2 299.8 449.1 301.5 450.2 305.1C451.2 308.6 452.2 314.7 451.4 320.1C450.6 325.5 447.0 332.6 445.2 337.6C443.3 342.6 441.6 346.0 440.1 350.2C438.7 354.3 438.5 358.9 436.4 362.7C434.3 366.4 431.2 369.8 427.6 372.7C424.1 375.6 418.8 379.8 415.1 380.2C411.3 380.6 407.8 378.1 405.1 375.2C402.4 372.3 400.3 367.7 398.8 362.7C397.3 357.7 396.9 351.4 396.3 345.1C395.7 338.9 394.8 330.9 395.1 325.1C395.3 319.3 396.3 314.0 397.6 310.1C398.8 306.1 400.9 303.2 402.6 301.3C404.2 299.4 400.5 299.2 407.6 298.8Z" fill="#fff" fill-opacity="0.1" filter="url(#pbw)"/>
<path d="M407.6 298.8C414.7 298.4 438.1 297.8 445.2 298.8C452.2 299.8 449.1 301.5 450.2 305.1C451.2 308.6 452.2 314.7 451.4 320.1C450.6 325.5 447.0 332.6 445.2 337.6C443.3 342.6 441.6 346.0 440.1 350.2C438.7 354.3 438.5 358.9 436.4 362.7C434.3 366.4 431.2 369.8 427.6 372.7C424.1 375.6 418.8 379.8 415.1 380.2C411.3 380.6 407.8 378.1 405.1 375.2C402.4 372.3 400.3 367.7 398.8 362.7C397.3 357.7 396.9 351.4 396.3 345.1C395.7 338.9 394.8 330.9 395.1 325.1C395.3 319.3 396.3 314.0 397.6 310.1C398.8 306.1 400.9 303.2 402.6 301.3C404.2 299.4 400.5 299.2 407.6 298.8Z" fill="#fff" fill-opacity="0.155" filter="url(#pb)"/>
<ellipse cx="422.6" cy="337.6" rx="55.1" ry="75.2" fill="url(#g)" fill-opacity="0.09"/>
<ellipse cx="424.6" cy="321.3" rx="31.3" ry="26.3" fill="url(#p)" fill-opacity="0.18"/>
<ellipse cx="421.4" cy="350.2" rx="12.5" ry="10.5" fill="url(#p)" fill-opacity="0.36"/>
<ellipse cx="429.4" cy="316.3" rx="27.6" ry="20.0" fill="url(#p)" fill-opacity="0.76"/>
</g>
<g clip-path="url(#cb8)">
<rect x="33" y="411.3" width="99.2" height="103.4" fill="#fff" fill-opacity="0.03"/>
<path d="M41.3 432.6C42.5 429.4 44.4 425.6 47.6 423.8C50.7 422.0 55.5 421.4 60.1 422.0C64.7 422.7 71.4 425.4 75.1 427.6C78.9 429.7 81.4 431.3 82.6 435.1C83.9 438.8 83.7 445.5 82.6 450.1C81.6 454.7 77.8 458.5 76.4 462.6C74.9 466.8 74.5 471.0 73.9 475.2C73.2 479.3 73.9 483.5 72.6 487.7C71.4 491.9 68.8 497.2 66.3 500.2C63.8 503.2 60.1 505.9 57.6 505.7C55.1 505.5 52.9 502.4 51.3 498.9C49.7 495.5 48.9 490.4 48.1 485.2C47.2 480.0 47.3 472.6 46.3 467.6C45.3 462.6 43.0 459.3 42.0 455.1C41.1 450.9 40.7 446.3 40.5 442.6C40.4 438.8 40.1 435.7 41.3 432.6Z" fill="#fff" fill-opacity="0.1" filter="url(#pbw)"/>
<path d="M41.3 432.6C42.5 429.4 44.4 425.6 47.6 423.8C50.7 422.0 55.5 421.4 60.1 422.0C64.7 422.7 71.4 425.4 75.1 427.6C78.9 429.7 81.4 431.3 82.6 435.1C83.9 438.8 83.7 445.5 82.6 450.1C81.6 454.7 77.8 458.5 76.4 462.6C74.9 466.8 74.5 471.0 73.9 475.2C73.2 479.3 73.9 483.5 72.6 487.7C71.4 491.9 68.8 497.2 66.3 500.2C63.8 503.2 60.1 505.9 57.6 505.7C55.1 505.5 52.9 502.4 51.3 498.9C49.7 495.5 48.9 490.4 48.1 485.2C47.2 480.0 47.3 472.6 46.3 467.6C45.3 462.6 43.0 459.3 42.0 455.1C41.1 450.9 40.7 446.3 40.5 442.6C40.4 438.8 40.1 435.7 41.3 432.6Z" fill="#fff" fill-opacity="0.15" filter="url(#pb)"/>
<ellipse cx="66.3" cy="450.1" rx="50.1" ry="42.6" fill="url(#g)" fill-opacity="0.11"/>
<ellipse cx="58.1" cy="450.1" rx="14.5" ry="31.3" fill="url(#p)" fill-opacity="0.22"/>
<ellipse cx="61.3" cy="482.7" rx="10.0" ry="22.5" fill="url(#p)" fill-opacity="0.16"/>
<ellipse cx="62.6" cy="478.2" rx="6.5" ry="13.8" fill="url(#p)" fill-opacity="0.36" transform="rotate(10 62.6 478.2)"/>
<ellipse cx="58.1" cy="444.3" rx="8.0" ry="22.0" fill="url(#p1)" fill-opacity="0.94"/>
</g>
<g clip-path="url(#cb9)">
<rect x="146.5" y="411.3" width="99.2" height="103.4" fill="#fff" fill-opacity="0.03"/>
<path d="M195.1 426.3C202.2 425.1 225.2 422.8 232.7 423.8C240.2 424.8 238.8 428.2 240.2 432.6C241.7 436.9 242.1 444.7 241.5 450.1C240.8 455.5 238.3 460.5 236.5 465.1C234.6 469.7 233.3 473.1 230.2 477.7C227.1 482.2 222.7 488.9 217.7 492.7C212.7 496.4 206.0 498.5 200.1 500.2C194.3 501.9 186.8 503.5 182.6 502.7C178.4 501.9 175.9 498.9 175.1 495.2C174.3 491.4 176.6 485.6 177.6 480.2C178.6 474.7 180.1 468.9 181.4 462.6C182.6 456.4 183.6 447.8 185.1 442.6C186.6 437.4 188.5 434.0 190.1 431.3C191.8 428.6 188.0 427.6 195.1 426.3Z" fill="#fff" fill-opacity="0.13" filter="url(#pbx)"/>
<path d="M195.1 426.3C202.2 425.1 225.2 422.8 232.7 423.8C240.2 424.8 238.8 428.2 240.2 432.6C241.7 436.9 242.1 444.7 241.5 450.1C240.8 455.5 238.3 460.5 236.5 465.1C234.6 469.7 233.3 473.1 230.2 477.7C227.1 482.2 222.7 488.9 217.7 492.7C212.7 496.4 206.0 498.5 200.1 500.2C194.3 501.9 186.8 503.5 182.6 502.7C178.4 501.9 175.9 498.9 175.1 495.2C174.3 491.4 176.6 485.6 177.6 480.2C178.6 474.7 180.1 468.9 181.4 462.6C182.6 456.4 183.6 447.8 185.1 442.6C186.6 437.4 188.5 434.0 190.1 431.3C191.8 428.6 188.0 427.6 195.1 426.3Z" fill="#fff" fill-opacity="0.15" filter="url(#pb)"/>
<ellipse cx="202.6" cy="467.6" rx="65.1" ry="60.1" fill="url(#g)" fill-opacity="0.1" transform="rotate(40 202.6 467.6)"/>
<ellipse cx="212.7" cy="450.1" rx="30.1" ry="27.6" fill="url(#p)" fill-opacity="0.16"/>
<ellipse cx="202.6" cy="480.2" rx="25.1" ry="16.3" fill="url(#p)" fill-opacity="0.12" transform="rotate(-25 202.6 480.2)"/>
<ellipse cx="210.2" cy="442.6" rx="18.8" ry="15.0" fill="url(#p)" fill-opacity="0.18"/>
<ellipse cx="221.4" cy="440.8" rx="23.0" ry="18.0" fill="url(#p)" fill-opacity="0.84"/>
</g>
<g clip-path="url(#cb10)">
<rect x="263" y="411.3" width="98.0" height="102.7" fill="#fff" fill-opacity="0.03"/>
<path d="M266.3 432.6C267.1 428.2 268.8 425.7 271.3 423.8C273.8 421.9 278.0 421.3 281.3 421.3C284.7 421.3 288.8 421.9 291.3 423.8C293.8 425.7 295.5 428.2 296.3 432.6C297.2 436.9 297.0 444.7 296.3 450.1C295.7 455.5 293.6 460.1 292.6 465.1C291.5 470.1 291.2 474.3 290.1 480.2C288.9 486.0 287.0 495.2 285.6 500.2C284.1 505.2 282.7 510.2 281.3 510.2C279.9 510.2 278.5 505.2 277.1 500.2C275.6 495.2 273.9 486.0 272.5 480.2C271.2 474.3 269.8 470.1 268.8 465.1C267.7 460.1 266.7 455.5 266.3 450.1C265.9 444.7 265.4 436.9 266.3 432.6Z" fill="#fff" fill-opacity="0.1" filter="url(#pbw)"/>
<path d="M266.3 432.6C267.1 428.2 268.8 425.7 271.3 423.8C273.8 421.9 278.0 421.3 281.3 421.3C284.7 421.3 288.8 421.9 291.3 423.8C293.8 425.7 295.5 428.2 296.3 432.6C297.2 436.9 297.0 444.7 296.3 450.1C295.7 455.5 293.6 460.1 292.6 465.1C291.5 470.1 291.2 474.3 290.1 480.2C288.9 486.0 287.0 495.2 285.6 500.2C284.1 505.2 282.7 510.2 281.3 510.2C279.9 510.2 278.5 505.2 277.1 500.2C275.6 495.2 273.9 486.0 272.5 480.2C271.2 474.3 269.8 470.1 268.8 465.1C267.7 460.1 266.7 455.5 266.3 450.1C265.9 444.7 265.4 436.9 266.3 432.6Z" fill="#fff" fill-opacity="0.15" filter="url(#pb)"/>
<ellipse cx="281.3" cy="450.1" rx="27.6" ry="45.1" fill="url(#g)" fill-opacity="0.09"/>
<ellipse cx="281.1" cy="447.6" rx="10.5" ry="27.6" fill="url(#p)" fill-opacity="0.22"/>
<ellipse cx="280.1" cy="477.7" rx="5.0" ry="30.1" fill="url(#p)" fill-opacity="0.3"/>
<ellipse cx="280.6" cy="444.8" rx="7.5" ry="23.8" fill="url(#p1)" fill-opacity="0.94"/>
</g>
<g clip-path="url(#cb11)">
<rect x="381.3" y="411.3" width="98.9" height="102.7" fill="#fff" fill-opacity="0.03"/>
<path d="M388.8 427.6C390.5 424.5 394.8 425.1 400.1 424.5C405.3 424.0 414.0 424.0 420.1 424.5C426.2 425.1 434.3 425.0 436.4 427.6C438.5 430.1 434.7 434.7 432.6 440.1C430.5 445.5 426.4 454.3 423.9 460.1C421.4 466.0 419.4 468.5 417.6 475.2C415.8 481.8 415.8 494.8 413.1 500.2C410.4 505.6 403.8 507.7 401.3 507.7C398.8 507.7 398.9 503.5 398.1 500.2C397.2 496.9 397.0 493.9 396.3 487.7C395.6 481.4 394.8 470.1 393.8 462.6C392.8 455.1 390.9 448.4 390.0 442.6C389.2 436.7 387.1 430.6 388.8 427.6Z" fill="#fff" fill-opacity="0.1" filter="url(#pbw)"/>
<path d="M388.8 427.6C390.5 424.5 394.8 425.1 400.1 424.5C405.3 424.0 414.0 424.0 420.1 424.5C426.2 425.1 434.3 425.0 436.4 427.6C438.5 430.1 434.7 434.7 432.6 440.1C430.5 445.5 426.4 454.3 423.9 460.1C421.4 466.0 419.4 468.5 417.6 475.2C415.8 481.8 415.8 494.8 413.1 500.2C410.4 505.6 403.8 507.7 401.3 507.7C398.8 507.7 398.9 503.5 398.1 500.2C397.2 496.9 397.0 493.9 396.3 487.7C395.6 481.4 394.8 470.1 393.8 462.6C392.8 455.1 390.9 448.4 390.0 442.6C389.2 436.7 387.1 430.6 388.8 427.6Z" fill="#fff" fill-opacity="0.15" filter="url(#pb)"/>
<ellipse cx="411.3" cy="450.1" rx="42.6" ry="40.1" fill="url(#g)" fill-opacity="0.09"/>
<ellipse cx="410.1" cy="441.3" rx="23.8" ry="17.0" fill="url(#p)" fill-opacity="0.22"/>
<ellipse cx="405.1" cy="480.2" rx="7.5" ry="22.5" fill="url(#p)" fill-opacity="0.18"/>
<ellipse cx="405.1" cy="476.4" rx="5.5" ry="11.5" fill="url(#p)" fill-opacity="0.4"/>
<ellipse cx="406.3" cy="447.8" rx="10.5" ry="20.0" fill="url(#p1)" fill-opacity="0.94"/>
</g>
</g></g>
<g>
<path d="M33 163H132.5V266" fill="none" stroke="#8c8c8c" stroke-width="0.8"/>
<path d="M33 163V266H132.5" fill="none" stroke="#555" stroke-width="0.9"/>
<path d="M32.1 163V266" fill="none" stroke="#666" stroke-width="1" stroke-dasharray="0.5 1.6"/>
<path d="M33 266.8H132.5" fill="none" stroke="#666" stroke-width="1" stroke-dasharray="0.5 1.6"/>
<path d="M57.3 163V266M33 221H132.5" fill="none" stroke="#444" stroke-width="0.85"/>
<text class="tk" x="30.6" y="164.5" text-anchor="end">10<tspan dy="-1.4" font-size="2.6">5</tspan></text>
<path d="M30.8 163.0H33" stroke="#555" stroke-width="0.6"/>
<text class="tk" x="30.6" y="187.3" text-anchor="end">10<tspan dy="-1.4" font-size="2.6">4</tspan></text>
<path d="M30.8 185.8H33" stroke="#555" stroke-width="0.6"/>
<text class="tk" x="30.6" y="210.4" text-anchor="end">10<tspan dy="-1.4" font-size="2.6">3</tspan></text>
<path d="M30.8 208.9H33" stroke="#555" stroke-width="0.6"/>
<text class="tk" x="30.6" y="234.9" text-anchor="end">10<tspan dy="-1.4" font-size="2.6">2</tspan></text>
<path d="M30.8 233.4H33" stroke="#555" stroke-width="0.6"/>
<text class="tk" x="30.4" y="256.7" text-anchor="end">0</text>
<path d="M30.8 255.2H33" stroke="#555" stroke-width="0.6"/>
<text class="tk" x="43.3" y="273.6" text-anchor="middle">0</text>
<path d="M43.3 266v2.2" stroke="#555" stroke-width="0.6"/>
<text class="tk" x="64.4" y="273.6" text-anchor="middle">10<tspan dy="-1.4" font-size="2.6">2</tspan></text>
<path d="M63.8 266v2.2" stroke="#555" stroke-width="0.6"/>
<text class="tk" x="88.2" y="273.6" text-anchor="middle">10<tspan dy="-1.4" font-size="2.6">3</tspan></text>
<path d="M87.6 266v2.2" stroke="#555" stroke-width="0.6"/>
<text class="tk" x="110.8" y="273.6" text-anchor="middle">10<tspan dy="-1.4" font-size="2.6">4</tspan></text>
<path d="M110.2 266v2.2" stroke="#555" stroke-width="0.6"/>
<text class="tk" x="132.2" y="273.6" text-anchor="middle">10<tspan dy="-1.4" font-size="2.6">5</tspan></text>
<path d="M131.6 266v2.2" stroke="#555" stroke-width="0.6"/>
<text class="b" x="50.6" y="281" font-size="8.4" textLength="21.5" lengthAdjust="spacingAndGlyphs" fill="#111">CD48</text>
</g>
<g>
<path d="M146.5 163H245.7V265.7" fill="none" stroke="#8c8c8c" stroke-width="0.8"/>
<path d="M146.5 163V265.7H245.7" fill="none" stroke="#555" stroke-width="0.9"/>
<path d="M145.6 163V265.7" fill="none" stroke="#666" stroke-width="1" stroke-dasharray="0.5 1.6"/>
<path d="M146.5 266.5H245.7" fill="none" stroke="#666" stroke-width="1" stroke-dasharray="0.5 1.6"/>
<path d="M181.9 163V265.7M146.5 217.1H245.7" fill="none" stroke="#444" stroke-width="0.85"/>
<text class="tk" x="144.1" y="164.5" text-anchor="end">10<tspan dy="-1.4" font-size="2.6">5</tspan></text>
<path d="M144.3 163.0H146.5" stroke="#555" stroke-width="0.6"/>
<text class="tk" x="144.1" y="187.3" text-anchor="end">10<tspan dy="-1.4" font-size="2.6">4</tspan></text>
<path d="M144.3 185.8H146.5" stroke="#555" stroke-width="0.6"/>
<text class="tk" x="144.1" y="210.4" text-anchor="end">10<tspan dy="-1.4" font-size="2.6">3</tspan></text>
<path d="M144.3 208.9H146.5" stroke="#555" stroke-width="0.6"/>
<text class="tk" x="144.1" y="234.9" text-anchor="end">10<tspan dy="-1.4" font-size="2.6">2</tspan></text>
<path d="M144.3 233.4H146.5" stroke="#555" stroke-width="0.6"/>
<text class="tk" x="143.9" y="256.7" text-anchor="end">0</text>
<path d="M144.3 255.2H146.5" stroke="#555" stroke-width="0.6"/>
<text class="tk" x="156.8" y="273.3" text-anchor="middle">0</text>
<path d="M156.8 265.7v2.2" stroke="#555" stroke-width="0.6"/>
<text class="tk" x="177.9" y="273.3" text-anchor="middle">10<tspan dy="-1.4" font-size="2.6">2</tspan></text>
<path d="M177.3 265.7v2.2" stroke="#555" stroke-width="0.6"/>
<text class="tk" x="201.7" y="273.3" text-anchor="middle">10<tspan dy="-1.4" font-size="2.6">3</tspan></text>
<path d="M201.1 265.7v2.2" stroke="#555" stroke-width="0.6"/>
<text class="tk" x="224.3" y="273.3" text-anchor="middle">10<tspan dy="-1.4" font-size="2.6">4</tspan></text>
<path d="M223.7 265.7v2.2" stroke="#555" stroke-width="0.6"/>
<text class="tk" x="245.7" y="273.3" text-anchor="middle">10<tspan dy="-1.4" font-size="2.6">5</tspan></text>
<path d="M245.1 265.7v2.2" stroke="#555" stroke-width="0.6"/>
<text class="b" x="176.7" y="281" font-size="8.4" textLength="21.4" lengthAdjust="spacingAndGlyphs" fill="#111">Mac1</text>
</g>
<g>
<path d="M263 162.5H362V265.7" fill="none" stroke="#8c8c8c" stroke-width="0.8"/>
<path d="M263 162.5V265.7H362" fill="none" stroke="#555" stroke-width="0.9"/>
<path d="M262.1 162.5V265.7" fill="none" stroke="#666" stroke-width="1" stroke-dasharray="0.5 1.6"/>
<path d="M263 266.5H362" fill="none" stroke="#666" stroke-width="1" stroke-dasharray="0.5 1.6"/>
<path d="M295.6 162.5V265.7M263 220.4H362" fill="none" stroke="#444" stroke-width="0.85"/>
<text class="tk" x="260.6" y="164.0" text-anchor="end">10<tspan dy="-1.4" font-size="2.6">5</tspan></text>
<path d="M260.8 162.5H263" stroke="#555" stroke-width="0.6"/>
<text class="tk" x="260.6" y="186.8" text-anchor="end">10<tspan dy="-1.4" font-size="2.6">4</tspan></text>
<path d="M260.8 185.3H263" stroke="#555" stroke-width="0.6"/>
<text class="tk" x="260.6" y="209.9" text-anchor="end">10<tspan dy="-1.4" font-size="2.6">3</tspan></text>
<path d="M260.8 208.4H263" stroke="#555" stroke-width="0.6"/>
<text class="tk" x="260.6" y="234.4" text-anchor="end">10<tspan dy="-1.4" font-size="2.6">2</tspan></text>
<path d="M260.8 232.9H263" stroke="#555" stroke-width="0.6"/>
<text class="tk" x="260.4" y="256.2" text-anchor="end">0</text>
<path d="M260.8 254.7H263" stroke="#555" stroke-width="0.6"/>
<text class="tk" x="282.6" y="273.3" text-anchor="middle">0</text>
<path d="M282.6 265.7v2.2" stroke="#555" stroke-width="0.6"/>
<text class="tk" x="314.5" y="273.3" text-anchor="middle">10<tspan dy="-1.4" font-size="2.6">3</tspan></text>
<path d="M313.9 265.7v2.2" stroke="#555" stroke-width="0.6"/>
<text class="tk" x="340.3" y="273.3" text-anchor="middle">10<tspan dy="-1.4" font-size="2.6">4</tspan></text>
<path d="M339.7 265.7v2.2" stroke="#555" stroke-width="0.6"/>
<text class="tk" x="362.1" y="273.3" text-anchor="middle">10<tspan dy="-1.4" font-size="2.6">5</tspan></text>
<path d="M361.5 265.7v2.2" stroke="#555" stroke-width="0.6"/>
<text class="b" x="291.7" y="281" font-size="8.4" textLength="16.0" lengthAdjust="spacingAndGlyphs" fill="#111">CD9</text>
</g>
<g>
<path d="M381.3 162.5H480.2V265.7" fill="none" stroke="#8c8c8c" stroke-width="0.8"/>
<path d="M381.3 162.5V265.7H480.2" fill="none" stroke="#555" stroke-width="0.9"/>
<path d="M380.40000000000003 162.5V265.7" fill="none" stroke="#666" stroke-width="1" stroke-dasharray="0.5 1.6"/>
<path d="M381.3 266.5H480.2" fill="none" stroke="#666" stroke-width="1" stroke-dasharray="0.5 1.6"/>
<path d="M414.3 162.5V265.7M381.3 220.4H480.2" fill="none" stroke="#444" stroke-width="0.85"/>
<text class="tk" x="378.9" y="164.0" text-anchor="end">10<tspan dy="-1.4" font-size="2.6">5</tspan></text>
<path d="M379.1 162.5H381.3" stroke="#555" stroke-width="0.6"/>
<text class="tk" x="378.9" y="186.8" text-anchor="end">10<tspan dy="-1.4" font-size="2.6">4</tspan></text>
<path d="M379.1 185.3H381.3" stroke="#555" stroke-width="0.6"/>
<text class="tk" x="378.9" y="209.9" text-anchor="end">10<tspan dy="-1.4" font-size="2.6">3</tspan></text>
<path d="M379.1 208.4H381.3" stroke="#555" stroke-width="0.6"/>
<text class="tk" x="378.9" y="234.4" text-anchor="end">10<tspan dy="-1.4" font-size="2.6">2</tspan></text>
<path d="M379.1 232.9H381.3" stroke="#555" stroke-width="0.6"/>
<text class="tk" x="378.7" y="256.2" text-anchor="end">0</text>
<path d="M379.1 254.7H381.3" stroke="#555" stroke-width="0.6"/>
<text class="tk" x="390.5" y="273.3" text-anchor="middle">-10</text>
<path d="M390.5 265.7v2.2" stroke="#555" stroke-width="0.6"/>
<text class="tk" x="407.6" y="273.3" text-anchor="middle">0</text>
<path d="M407.6 265.7v2.2" stroke="#555" stroke-width="0.6"/>
<text class="tk" x="425.1" y="273.3" text-anchor="middle">10</text>
<path d="M425.1 265.7v2.2" stroke="#555" stroke-width="0.6"/>
<text class="tk" x="457.0" y="273.3" text-anchor="middle">10<tspan dy="-1.4" font-size="2.6">2</tspan></text>
<path d="M456.4 265.7v2.2" stroke="#555" stroke-width="0.6"/>
<text class="tk" x="480.1" y="273.3" text-anchor="middle">10<tspan dy="-1.4" font-size="2.6">3</tspan></text>
<path d="M479.5 265.7v2.2" stroke="#555" stroke-width="0.6"/>
<text class="b" x="407" y="281" font-size="8.4" textLength="15.1" lengthAdjust="spacingAndGlyphs" fill="#111">cKit</text>
</g>
<g>
<path d="M33 286.3H132.2V389" fill="none" stroke="#8c8c8c" stroke-width="0.8"/>
<path d="M33 286.3V389H132.2" fill="none" stroke="#555" stroke-width="0.9"/>
<path d="M32.1 286.3V389" fill="none" stroke="#666" stroke-width="1" stroke-dasharray="0.5 1.6"/>
<path d="M33 389.8H132.2" fill="none" stroke="#666" stroke-width="1" stroke-dasharray="0.5 1.6"/>
<path d="M61.8 286.3V389M33 344.4H132.2" fill="none" stroke="#444" stroke-width="0.85"/>
<text class="tk" x="30.6" y="287.8" text-anchor="end">10<tspan dy="-1.4" font-size="2.6">5</tspan></text>
<path d="M30.8 286.3H33" stroke="#555" stroke-width="0.6"/>
<text class="tk" x="30.6" y="310.3" text-anchor="end">10<tspan dy="-1.4" font-size="2.6">4</tspan></text>
<path d="M30.8 308.8H33" stroke="#555" stroke-width="0.6"/>
<text class="tk" x="30.6" y="333.4" text-anchor="end">10<tspan dy="-1.4" font-size="2.6">3</tspan></text>
<path d="M30.8 331.9H33" stroke="#555" stroke-width="0.6"/>
<text class="tk" x="30.6" y="356.2" text-anchor="end">10<tspan dy="-1.4" font-size="2.6">2</tspan></text>
<path d="M30.8 354.7H33" stroke="#555" stroke-width="0.6"/>
<text class="tk" x="30.6" y="378.0" text-anchor="end">10<tspan dy="-1.4" font-size="2.6">1</tspan></text>
<path d="M30.8 376.5H33" stroke="#555" stroke-width="0.6"/>
<text class="tk" x="30.4" y="388.5" text-anchor="end">0</text>
<path d="M30.8 387.0H33" stroke="#555" stroke-width="0.6"/>
<text class="tk" x="43.3" y="396.6" text-anchor="middle">0</text>
<path d="M43.3 389v2.2" stroke="#555" stroke-width="0.6"/>
<text class="tk" x="64.4" y="396.6" text-anchor="middle">10<tspan dy="-1.4" font-size="2.6">2</tspan></text>
<path d="M63.8 389v2.2" stroke="#555" stroke-width="0.6"/>
<text class="tk" x="88.2" y="396.6" text-anchor="middle">10<tspan dy="-1.4" font-size="2.6">3</tspan></text>
<path d="M87.6 389v2.2" stroke="#555" stroke-width="0.6"/>
<text class="tk" x="110.8" y="396.6" text-anchor="middle">10<tspan dy="-1.4" font-size="2.6">4</tspan></text>
<path d="M110.2 389v2.2" stroke="#555" stroke-width="0.6"/>
<text class="tk" x="132.2" y="396.6" text-anchor="middle">10<tspan dy="-1.4" font-size="2.6">5</tspan></text>
<path d="M131.6 389v2.2" stroke="#555" stroke-width="0.6"/>
<text class="b" x="49.6" y="406" font-size="8.4" textLength="21.1" lengthAdjust="spacingAndGlyphs" fill="#111">CD11</text>
</g>
<g>
<path d="M146.5 286.3H245.7V389" fill="none" stroke="#8c8c8c" stroke-width="0.8"/>
<path d="M146.5 286.3V389H245.7" fill="none" stroke="#555" stroke-width="0.9"/>
<path d="M145.6 286.3V389" fill="none" stroke="#666" stroke-width="1" stroke-dasharray="0.5 1.6"/>
<path d="M146.5 389.8H245.7" fill="none" stroke="#666" stroke-width="1" stroke-dasharray="0.5 1.6"/>
<path d="M201.4 286.3V389M146.5 343.1H245.7" fill="none" stroke="#444" stroke-width="0.85"/>
<text class="tk" x="144.1" y="287.8" text-anchor="end">10<tspan dy="-1.4" font-size="2.6">5</tspan></text>
<path d="M144.3 286.3H146.5" stroke="#555" stroke-width="0.6"/>
<text class="tk" x="144.1" y="310.3" text-anchor="end">10<tspan dy="-1.4" font-size="2.6">4</tspan></text>
<path d="M144.3 308.8H146.5" stroke="#555" stroke-width="0.6"/>
<text class="tk" x="144.1" y="333.4" text-anchor="end">10<tspan dy="-1.4" font-size="2.6">3</tspan></text>
<path d="M144.3 331.9H146.5" stroke="#555" stroke-width="0.6"/>
<text class="tk" x="144.1" y="356.2" text-anchor="end">10<tspan dy="-1.4" font-size="2.6">2</tspan></text>
<path d="M144.3 354.7H146.5" stroke="#555" stroke-width="0.6"/>
<text class="tk" x="144.1" y="378.0" text-anchor="end">10<tspan dy="-1.4" font-size="2.6">1</tspan></text>
<path d="M144.3 376.5H146.5" stroke="#555" stroke-width="0.6"/>
<text class="tk" x="143.9" y="388.5" text-anchor="end">0</text>
<path d="M144.3 387.0H146.5" stroke="#555" stroke-width="0.6"/>
<text class="tk" x="156.8" y="396.6" text-anchor="middle">0</text>
<path d="M156.8 389v2.2" stroke="#555" stroke-width="0.6"/>
<text class="tk" x="177.9" y="396.6" text-anchor="middle">10<tspan dy="-1.4" font-size="2.6">2</tspan></text>
<path d="M177.3 389v2.2" stroke="#555" stroke-width="0.6"/>
<text class="tk" x="201.7" y="396.6" text-anchor="middle">10<tspan dy="-1.4" font-size="2.6">3</tspan></text>
<path d="M201.1 389v2.2" stroke="#555" stroke-width="0.6"/>
<text class="tk" x="224.3" y="396.6" text-anchor="middle">10<tspan dy="-1.4" font-size="2.6">4</tspan></text>
<path d="M223.7 389v2.2" stroke="#555" stroke-width="0.6"/>
<text class="tk" x="245.7" y="396.6" text-anchor="middle">10<tspan dy="-1.4" font-size="2.6">5</tspan></text>
<path d="M245.1 389v2.2" stroke="#555" stroke-width="0.6"/>
<text class="b" x="157" y="406" font-size="8.4" textLength="36.1" lengthAdjust="spacingAndGlyphs" fill="#111">CD16/32</text>
</g>
<g>
<path d="M263 286.3H362V389" fill="none" stroke="#8c8c8c" stroke-width="0.8"/>
<path d="M263 286.3V389H362" fill="none" stroke="#555" stroke-width="0.9"/>
<path d="M262.1 286.3V389" fill="none" stroke="#666" stroke-width="1" stroke-dasharray="0.5 1.6"/>
<path d="M263 389.8H362" fill="none" stroke="#666" stroke-width="1" stroke-dasharray="0.5 1.6"/>
<path d="M281.6 286.3V389M263 343.4H362" fill="none" stroke="#444" stroke-width="0.85"/>
<text class="tk" x="260.6" y="287.8" text-anchor="end">10<tspan dy="-1.4" font-size="2.6">5</tspan></text>
<path d="M260.8 286.3H263" stroke="#555" stroke-width="0.6"/>
<text class="tk" x="260.6" y="310.3" text-anchor="end">10<tspan dy="-1.4" font-size="2.6">4</tspan></text>
<path d="M260.8 308.8H263" stroke="#555" stroke-width="0.6"/>
<text class="tk" x="260.6" y="333.4" text-anchor="end">10<tspan dy="-1.4" font-size="2.6">3</tspan></text>
<path d="M260.8 331.9H263" stroke="#555" stroke-width="0.6"/>
<text class="tk" x="260.6" y="356.2" text-anchor="end">10<tspan dy="-1.4" font-size="2.6">2</tspan></text>
<path d="M260.8 354.7H263" stroke="#555" stroke-width="0.6"/>
<text class="tk" x="260.6" y="378.0" text-anchor="end">10<tspan dy="-1.4" font-size="2.6">1</tspan></text>
<path d="M260.8 376.5H263" stroke="#555" stroke-width="0.6"/>
<text class="tk" x="260.4" y="388.5" text-anchor="end">0</text>
<path d="M260.8 387.0H263" stroke="#555" stroke-width="0.6"/>
<text class="tk" x="273.0" y="396.6" text-anchor="middle">0</text>
<path d="M273.0 389v2.2" stroke="#555" stroke-width="0.6"/>
<text class="tk" x="293.6" y="396.6" text-anchor="middle">10<tspan dy="-1.4" font-size="2.6">2</tspan></text>
<path d="M293.0 389v2.2" stroke="#555" stroke-width="0.6"/>
<text class="tk" x="318.2" y="396.6" text-anchor="middle">10<tspan dy="-1.4" font-size="2.6">3</tspan></text>
<path d="M317.6 389v2.2" stroke="#555" stroke-width="0.6"/>
<text class="tk" x="340.8" y="396.6" text-anchor="middle">10<tspan dy="-1.4" font-size="2.6">4</tspan></text>
<path d="M340.2 389v2.2" stroke="#555" stroke-width="0.6"/>
<text class="tk" x="362.1" y="396.6" text-anchor="middle">10<tspan dy="-1.4" font-size="2.6">5</tspan></text>
<path d="M361.5 389v2.2" stroke="#555" stroke-width="0.6"/>
<text class="b" x="275.6" y="406" font-size="8.4" textLength="26.5" lengthAdjust="spacingAndGlyphs" fill="#111">CD150</text>
</g>
<g>
<path d="M381.3 286.3H480.2V389" fill="none" stroke="#8c8c8c" stroke-width="0.8"/>
<path d="M381.3 286.3V389H480.2" fill="none" stroke="#555" stroke-width="0.9"/>
<path d="M380.40000000000003 286.3V389" fill="none" stroke="#666" stroke-width="1" stroke-dasharray="0.5 1.6"/>
<path d="M381.3 389.8H480.2" fill="none" stroke="#666" stroke-width="1" stroke-dasharray="0.5 1.6"/>
<path d="M414.1 286.3V389M381.3 343.1H480.2" fill="none" stroke="#444" stroke-width="0.85"/>
<text class="tk" x="378.9" y="287.8" text-anchor="end">10<tspan dy="-1.4" font-size="2.6">5</tspan></text>
<path d="M379.1 286.3H381.3" stroke="#555" stroke-width="0.6"/>
<text class="tk" x="378.9" y="310.3" text-anchor="end">10<tspan dy="-1.4" font-size="2.6">4</tspan></text>
<path d="M379.1 308.8H381.3" stroke="#555" stroke-width="0.6"/>
<text class="tk" x="378.9" y="333.4" text-anchor="end">10<tspan dy="-1.4" font-size="2.6">3</tspan></text>
<path d="M379.1 331.9H381.3" stroke="#555" stroke-width="0.6"/>
<text class="tk" x="378.9" y="356.2" text-anchor="end">10<tspan dy="-1.4" font-size="2.6">2</tspan></text>
<path d="M379.1 354.7H381.3" stroke="#555" stroke-width="0.6"/>
<text class="tk" x="378.9" y="378.0" text-anchor="end">10<tspan dy="-1.4" font-size="2.6">1</tspan></text>
<path d="M379.1 376.5H381.3" stroke="#555" stroke-width="0.6"/>
<text class="tk" x="378.7" y="388.5" text-anchor="end">0</text>
<path d="M379.1 387.0H381.3" stroke="#555" stroke-width="0.6"/>
<text class="tk" x="390.0" y="396.6" text-anchor="middle">0</text>
<path d="M390.0 389v2.2" stroke="#555" stroke-width="0.6"/>
<text class="tk" x="413.6" y="396.6" text-anchor="middle">10<tspan dy="-1.4" font-size="2.6">2</tspan></text>
<path d="M413.0 389v2.2" stroke="#555" stroke-width="0.6"/>
<text class="tk" x="436.2" y="396.6" text-anchor="middle">10<tspan dy="-1.4" font-size="2.6">3</tspan></text>
<path d="M435.6 389v2.2" stroke="#555" stroke-width="0.6"/>
<text class="tk" x="458.8" y="396.6" text-anchor="middle">10<tspan dy="-1.4" font-size="2.6">4</tspan></text>
<path d="M458.2 389v2.2" stroke="#555" stroke-width="0.6"/>
<text class="tk" x="480.1" y="396.6" text-anchor="middle">10<tspan dy="-1.4" font-size="2.6">5</tspan></text>
<path d="M479.5 389v2.2" stroke="#555" stroke-width="0.6"/>
<text class="b" x="399" y="406" font-size="8.4" textLength="23.7" lengthAdjust="spacingAndGlyphs" fill="#111">F4/80</text>
</g>
<g>
<path d="M33 411.3H132.2V514.7" fill="none" stroke="#8c8c8c" stroke-width="0.8"/>
<path d="M33 411.3V514.7H132.2" fill="none" stroke="#555" stroke-width="0.9"/>
<path d="M32.1 411.3V514.7" fill="none" stroke="#666" stroke-width="1" stroke-dasharray="0.5 1.6"/>
<path d="M33 515.5H132.2" fill="none" stroke="#666" stroke-width="1" stroke-dasharray="0.5 1.6"/>
<path d="M57.3 411.3V514.7M33 468.4H132.2" fill="none" stroke="#444" stroke-width="0.85"/>
<text class="tk" x="30.6" y="412.8" text-anchor="end">10<tspan dy="-1.4" font-size="2.6">5</tspan></text>
<path d="M30.8 411.3H33" stroke="#555" stroke-width="0.6"/>
<text class="tk" x="30.6" y="435.8" text-anchor="end">10<tspan dy="-1.4" font-size="2.6">4</tspan></text>
<path d="M30.8 434.3H33" stroke="#555" stroke-width="0.6"/>
<text class="tk" x="30.6" y="459.1" text-anchor="end">10<tspan dy="-1.4" font-size="2.6">3</tspan></text>
<path d="M30.8 457.6H33" stroke="#555" stroke-width="0.6"/>
<text class="tk" x="30.6" y="482.2" text-anchor="end">10<tspan dy="-1.4" font-size="2.6">2</tspan></text>
<path d="M30.8 480.7H33" stroke="#555" stroke-width="0.6"/>
<text class="tk" x="30.4" y="511.0" text-anchor="end">0</text>
<path d="M30.8 509.5H33" stroke="#555" stroke-width="0.6"/>
<text class="tk" x="52.6" y="522.3" text-anchor="middle">0</text>
<path d="M52.6 514.7v2.2" stroke="#555" stroke-width="0.6"/>
<text class="tk" x="65.0" y="522.3" text-anchor="middle">2</text>
<path d="M65.0 514.7v2.2" stroke="#555" stroke-width="0.6"/>
<text class="tk" x="86.2" y="522.3" text-anchor="middle">10<tspan dy="-1.4" font-size="2.6">3</tspan></text>
<path d="M85.6 514.7v2.2" stroke="#555" stroke-width="0.6"/>
<text class="tk" x="110.8" y="522.3" text-anchor="middle">10<tspan dy="-1.4" font-size="2.6">4</tspan></text>
<path d="M110.2 514.7v2.2" stroke="#555" stroke-width="0.6"/>
<text class="tk" x="132.1" y="522.3" text-anchor="middle">10<tspan dy="-1.4" font-size="2.6">5</tspan></text>
<path d="M131.5 514.7v2.2" stroke="#555" stroke-width="0.6"/>
<text class="b" x="44" y="531.2" font-size="8.4" textLength="17.0" lengthAdjust="spacingAndGlyphs" fill="#111">Tie2</text>
</g>
<g>
<path d="M146.5 411.3H245.7V514.7" fill="none" stroke="#8c8c8c" stroke-width="0.8"/>
<path d="M146.5 411.3V514.7H245.7" fill="none" stroke="#555" stroke-width="0.9"/>
<path d="M145.6 411.3V514.7" fill="none" stroke="#666" stroke-width="1" stroke-dasharray="0.5 1.6"/>
<path d="M146.5 515.5H245.7" fill="none" stroke="#666" stroke-width="1" stroke-dasharray="0.5 1.6"/>
<path d="M179.3 411.3V514.7M146.5 468.9H245.7" fill="none" stroke="#444" stroke-width="0.85"/>
<text class="tk" x="144.1" y="412.8" text-anchor="end">10<tspan dy="-1.4" font-size="2.6">5</tspan></text>
<path d="M144.3 411.3H146.5" stroke="#555" stroke-width="0.6"/>
<text class="tk" x="144.1" y="435.8" text-anchor="end">10<tspan dy="-1.4" font-size="2.6">4</tspan></text>
<path d="M144.3 434.3H146.5" stroke="#555" stroke-width="0.6"/>
<text class="tk" x="144.1" y="459.1" text-anchor="end">10<tspan dy="-1.4" font-size="2.6">3</tspan></text>
<path d="M144.3 457.6H146.5" stroke="#555" stroke-width="0.6"/>
<text class="tk" x="144.1" y="482.2" text-anchor="end">10<tspan dy="-1.4" font-size="2.6">2</tspan></text>
<path d="M144.3 480.7H146.5" stroke="#555" stroke-width="0.6"/>
<text class="tk" x="143.9" y="511.0" text-anchor="end">0</text>
<path d="M144.3 509.5H146.5" stroke="#555" stroke-width="0.6"/>
<text class="tk" x="156.3" y="522.3" text-anchor="middle">0</text>
<path d="M156.3 514.7v2.2" stroke="#555" stroke-width="0.6"/>
<text class="tk" x="178.2" y="522.3" text-anchor="middle">10<tspan dy="-1.4" font-size="2.6">2</tspan></text>
<path d="M177.6 514.7v2.2" stroke="#555" stroke-width="0.6"/>
<text class="tk" x="202.0" y="522.3" text-anchor="middle">10<tspan dy="-1.4" font-size="2.6">3</tspan></text>
<path d="M201.4 514.7v2.2" stroke="#555" stroke-width="0.6"/>
<text class="tk" x="223.8" y="522.3" text-anchor="middle">10<tspan dy="-1.4" font-size="2.6">4</tspan></text>
<path d="M223.2 514.7v2.2" stroke="#555" stroke-width="0.6"/>
<text class="tk" x="245.3" y="522.3" text-anchor="middle">10<tspan dy="-1.4" font-size="2.6">5</tspan></text>
<path d="M244.7 514.7v2.2" stroke="#555" stroke-width="0.6"/>
<text class="b" x="155.6" y="531" font-size="8.4" textLength="14.1" lengthAdjust="spacingAndGlyphs" fill="#111">Gr1</text>
</g>
<g>
<path d="M263 411.3H361V514" fill="none" stroke="#8c8c8c" stroke-width="0.8"/>
<path d="M263 411.3V514H361" fill="none" stroke="#555" stroke-width="0.9"/>
<path d="M262.1 411.3V514" fill="none" stroke="#666" stroke-width="1" stroke-dasharray="0.5 1.6"/>
<path d="M263 514.8H361" fill="none" stroke="#666" stroke-width="1" stroke-dasharray="0.5 1.6"/>
<path d="M281.6 411.3V514M263 468.1H361" fill="none" stroke="#444" stroke-width="0.85"/>
<text class="tk" x="260.6" y="412.8" text-anchor="end">10<tspan dy="-1.4" font-size="2.6">5</tspan></text>
<path d="M260.8 411.3H263" stroke="#555" stroke-width="0.6"/>
<text class="tk" x="260.6" y="435.8" text-anchor="end">10<tspan dy="-1.4" font-size="2.6">4</tspan></text>
<path d="M260.8 434.3H263" stroke="#555" stroke-width="0.6"/>
<text class="tk" x="260.6" y="459.1" text-anchor="end">10<tspan dy="-1.4" font-size="2.6">3</tspan></text>
<path d="M260.8 457.6H263" stroke="#555" stroke-width="0.6"/>
<text class="tk" x="260.6" y="482.2" text-anchor="end">10<tspan dy="-1.4" font-size="2.6">2</tspan></text>
<path d="M260.8 480.7H263" stroke="#555" stroke-width="0.6"/>
<text class="tk" x="260.6" y="503.7" text-anchor="end">10<tspan dy="-1.4" font-size="2.6">1</tspan></text>
<path d="M260.8 502.2H263" stroke="#555" stroke-width="0.6"/>
<text class="tk" x="260.4" y="514.7" text-anchor="end">0</text>
<path d="M260.8 513.2H263" stroke="#555" stroke-width="0.6"/>
<text class="tk" x="276.3" y="521.6" text-anchor="middle">0</text>
<path d="M276.3 514v2.2" stroke="#555" stroke-width="0.6"/>
<text class="tk" x="291.9" y="521.6" text-anchor="middle">10<tspan dy="-1.4" font-size="2.6">2</tspan></text>
<path d="M291.3 514v2.2" stroke="#555" stroke-width="0.6"/>
<text class="tk" x="318.2" y="521.6" text-anchor="middle">10<tspan dy="-1.4" font-size="2.6">3</tspan></text>
<path d="M317.6 514v2.2" stroke="#555" stroke-width="0.6"/>
<text class="tk" x="340.8" y="521.6" text-anchor="middle">10<tspan dy="-1.4" font-size="2.6">4</tspan></text>
<path d="M340.2 514v2.2" stroke="#555" stroke-width="0.6"/>
<text class="tk" x="361.1" y="521.6" text-anchor="middle">10<tspan dy="-1.4" font-size="2.6">5</tspan></text>
<path d="M360.5 514v2.2" stroke="#555" stroke-width="0.6"/>
<text class="b" x="275.6" y="531" font-size="8.4" textLength="20.9" lengthAdjust="spacingAndGlyphs" fill="#111">Esam</text>
</g>
<g>
<path d="M381.3 411.3H480.2V514" fill="none" stroke="#8c8c8c" stroke-width="0.8"/>
<path d="M381.3 411.3V514H480.2" fill="none" stroke="#555" stroke-width="0.9"/>
<path d="M380.40000000000003 411.3V514" fill="none" stroke="#666" stroke-width="1" stroke-dasharray="0.5 1.6"/>
<path d="M381.3 514.8H480.2" fill="none" stroke="#666" stroke-width="1" stroke-dasharray="0.5 1.6"/>
<path d="M414.3 411.3V514M381.3 468.6H480.2" fill="none" stroke="#444" stroke-width="0.85"/>
<text class="tk" x="378.9" y="412.8" text-anchor="end">10<tspan dy="-1.4" font-size="2.6">5</tspan></text>
<path d="M379.1 411.3H381.3" stroke="#555" stroke-width="0.6"/>
<text class="tk" x="378.9" y="435.8" text-anchor="end">10<tspan dy="-1.4" font-size="2.6">4</tspan></text>
<path d="M379.1 434.3H381.3" stroke="#555" stroke-width="0.6"/>
<text class="tk" x="378.9" y="459.1" text-anchor="end">10<tspan dy="-1.4" font-size="2.6">3</tspan></text>
<path d="M379.1 457.6H381.3" stroke="#555" stroke-width="0.6"/>
<text class="tk" x="378.9" y="482.2" text-anchor="end">10<tspan dy="-1.4" font-size="2.6">2</tspan></text>
<path d="M379.1 480.7H381.3" stroke="#555" stroke-width="0.6"/>
<text class="tk" x="378.9" y="503.7" text-anchor="end">10<tspan dy="-1.4" font-size="2.6">1</tspan></text>
<path d="M379.1 502.2H381.3" stroke="#555" stroke-width="0.6"/>
<text class="tk" x="378.7" y="514.7" text-anchor="end">0</text>
<path d="M379.1 513.2H381.3" stroke="#555" stroke-width="0.6"/>
<text class="tk" x="398.0" y="521.6" text-anchor="middle">0</text>
<path d="M398.0 514v2.2" stroke="#555" stroke-width="0.6"/>
<text class="tk" x="435.2" y="521.6" text-anchor="middle">10<tspan dy="-1.4" font-size="2.6">3</tspan></text>
<path d="M434.6 514v2.2" stroke="#555" stroke-width="0.6"/>
<text class="tk" x="458.3" y="521.6" text-anchor="middle">10<tspan dy="-1.4" font-size="2.6">4</tspan></text>
<path d="M457.7 514v2.2" stroke="#555" stroke-width="0.6"/>
<text class="tk" x="479.9" y="521.6" text-anchor="middle">10<tspan dy="-1.4" font-size="2.6">5</tspan></text>
<path d="M479.3 514v2.2" stroke="#555" stroke-width="0.6"/>
<text class="b" x="402.4" y="531" font-size="8.4" textLength="15.7" lengthAdjust="spacingAndGlyphs" fill="#111">Flk2</text>
</g>
<g clip-path="url(#caall)"><g filter="url(#fa)">
<rect x="255" y="20" width="244" height="115" fill="#000"/>
<g clip-path="url(#ca0)">
<rect x="264" y="28.4" width="103.7" height="102.6" fill="#fff" fill-opacity="0.11"/>
<ellipse cx="348.0" cy="46.0" rx="90.0" ry="33.0" fill="url(#g)" fill-opacity="0.9"/>
<ellipse cx="295.0" cy="60.0" rx="33.0" ry="52.0" fill="url(#g)" fill-opacity="0.65"/>
<ellipse cx="299.0" cy="113.0" rx="55.0" ry="25.0" fill="url(#g)" fill-opacity="0.9" transform="rotate(-10 299.0 113.0)"/>
<ellipse cx="345.0" cy="110.0" rx="50.0" ry="16.0" fill="url(#g)" fill-opacity="0.1"/>
<ellipse cx="263.0" cy="28.0" rx="14.0" ry="22.0" fill="url(#kg)" fill-opacity="0.6"/>
</g>
<g clip-path="url(#ca1)">
<rect x="389.6" y="28.2" width="103.1" height="102.8" fill="#fff" fill-opacity="0.1"/>
<ellipse cx="432.0" cy="52.0" rx="60.0" ry="40.0" fill="url(#g)" fill-opacity="0.9"/>
<ellipse cx="472.0" cy="52.0" rx="50.0" ry="42.0" fill="url(#g)" fill-opacity="0.21"/>
<ellipse cx="411.0" cy="72.0" rx="28.0" ry="44.0" fill="url(#g)" fill-opacity="0.6"/>
<ellipse cx="412.0" cy="112.0" rx="42.0" ry="22.0" fill="url(#g)" fill-opacity="0.9" transform="rotate(-28 412.0 112.0)"/>
<ellipse cx="450.0" cy="112.0" rx="30.0" ry="16.0" fill="url(#g)" fill-opacity="0.07"/>
<ellipse cx="492.5" cy="80.0" rx="9.0" ry="72.0" fill="url(#g)" fill-opacity="0.9"/>
<ellipse cx="388.0" cy="26.0" rx="22.0" ry="34.0" fill="url(#kg)" fill-opacity="0.85" transform="rotate(-25 388.0 26.0)"/>
</g>
</g></g>
<filter id="sf" x="-5%" y="-5%" width="110%" height="110%"><feGaussianBlur stdDeviation="0.45"/></filter>
<g clip-path="url(#ca0)"><g filter="url(#sf)">
<path d="M280.5 50C280.3 42 281.5 34 285 31C289 28.6 299 28.6 304 30.5C308 33 313.5 37 313 41C312.5 45 306 50 301 56C297 61 293 71 288 71.8C284 72 280.8 60 280.5 50Z" fill="#ff00ff"/>
<path d="M282.5 49C282.3 41 283.5 34.5 287 32.3C291 30.6 297 30.8 300 32.8C303 35 303.8 38.5 303 42C302 46 298.5 51 296 56C293.5 61 291.5 66 288.5 66.6C285.5 66.6 282.8 57 282.5 49Z" fill="#1e9bff"/>
<path d="M284.8 47C284.6 41 285.8 36 288.5 34.2C291.5 32.8 294.8 33.5 296 36.5C297.2 39.5 296.3 43.5 295 47C293.8 50.5 292.5 54 291 57C290 59.5 288 60 286.8 57.5C285.5 54.5 284.9 51 284.8 47Z" fill="#00ff00"/>
<ellipse cx="290.2" cy="42.4" rx="3.2" ry="6.5" fill="#ff0000" transform="rotate(8 290.2 42.4)"/>
<ellipse cx="285.9" cy="112.2" rx="8.6" ry="11.4" fill="#ff00ff" transform="rotate(25 285.9 112.2)"/>
<ellipse cx="285.9" cy="111.5" rx="4.3" ry="5.5" fill="#1e9bff" transform="rotate(35 285.9 111.5)"/>
<path d="M272 130.5H297" stroke="#ff00ff" stroke-width="1.1"/><path d="M277 130.5H292" stroke="#1e9bff" stroke-width="1.1"/><path d="M282 130.5H288" stroke="#00e000" stroke-width="1.1"/>
</g></g>
<g clip-path="url(#ca1)"><g filter="url(#sf)">
<path d="M403 55C402.6 46 403.5 38 407.5 33.5C411 30 417 29.6 421 32C425 35 430.8 41 430.6 45C430.4 49 425 52.5 421 57.5C417.5 62 415.5 68.5 411.8 69.1C407.5 69.3 403.4 62 403 55Z" fill="#ff00ff"/>
<path d="M406.5 50C406.3 43 407.5 37 411 34.5C414 33 417.5 33.8 419.3 36.8C421 40 420.9 44 419.8 48C418.6 52.5 416.5 57 414.3 60C413 62 410.5 62 409 59C407.3 55.5 406.6 53 406.5 50Z" fill="#1e9bff"/>
<path d="M408.2 47C408 42.5 409.3 38.5 412 37C414.8 35.8 417.3 37.5 418 40.5C418.6 43.5 418 47 416.8 50C415.8 52.8 414.5 55 413 55.6C411.2 55.8 409.5 53.5 408.8 51C408.4 49.5 408.2 48.2 408.2 47Z" fill="#00ff00"/>
<ellipse cx="413.4" cy="46.4" rx="2.9" ry="5.4" fill="#ff0000" transform="rotate(4 413.4 46.4)"/>
<path d="M400 113C399.6 108.5 402.5 104.5 407 103.8C411.5 103.2 416.5 105 417 109C417.3 112.5 414.5 116 412 119C410 121.3 407.5 122.5 405 121.8C402 121 400.3 117 400 113Z" fill="#ff00ff"/>
<ellipse cx="407.2" cy="111.5" rx="3.1" ry="4.6" fill="#1e9bff" transform="rotate(30 407.2 111.5)"/>
<ellipse cx="493.5" cy="101" rx="2.4" ry="11" fill="#ff00ff"/>
</g></g>
<path d="M264 28.4H367.7V131" fill="none" stroke="#666" stroke-width="0.8"/>
<path d="M264 28.4V131H367.7" fill="none" stroke="#555" stroke-width="0.9"/>
<path d="M263.1 28.4V131" fill="none" stroke="#666" stroke-width="1" stroke-dasharray="0.5 1.6"/>
<path d="M264 131.8H367.7" fill="none" stroke="#666" stroke-width="1" stroke-dasharray="0.5 1.6"/>
<path d="M264 79.5H367.7" fill="none" stroke="#444" stroke-width="0.9"/>
<text class="tk" x="261.8" y="29.9" text-anchor="end">10<tspan dy="-1.4" font-size="2.6">5</tspan></text>
<text class="tk" x="264.0" y="137.5" text-anchor="middle">10<tspan dy="-1.4" font-size="2.6">1</tspan></text>
<text class="tk" x="261.8" y="55.5" text-anchor="end">10<tspan dy="-1.4" font-size="2.6">4</tspan></text>
<text class="tk" x="289.9" y="137.5" text-anchor="middle">10<tspan dy="-1.4" font-size="2.6">2</tspan></text>
<text class="tk" x="261.8" y="81.2" text-anchor="end">10<tspan dy="-1.4" font-size="2.6">3</tspan></text>
<text class="tk" x="315.9" y="137.5" text-anchor="middle">10<tspan dy="-1.4" font-size="2.6">3</tspan></text>
<text class="tk" x="261.8" y="106.8" text-anchor="end">10<tspan dy="-1.4" font-size="2.6">2</tspan></text>
<text class="tk" x="341.8" y="137.5" text-anchor="middle">10<tspan dy="-1.4" font-size="2.6">4</tspan></text>
<text class="tk" x="261.8" y="132.5" text-anchor="end">10<tspan dy="-1.4" font-size="2.6">1</tspan></text>
<text class="tk" x="367.7" y="137.5" text-anchor="middle">10<tspan dy="-1.4" font-size="2.6">5</tspan></text>
<path d="M389.6 28.2H492.7V131" fill="none" stroke="#666" stroke-width="0.8"/>
<path d="M389.6 28.2V131H492.7" fill="none" stroke="#555" stroke-width="0.9"/>
<path d="M388.70000000000005 28.2V131" fill="none" stroke="#666" stroke-width="1" stroke-dasharray="0.5 1.6"/>
<path d="M389.6 131.8H492.7" fill="none" stroke="#666" stroke-width="1" stroke-dasharray="0.5 1.6"/>
<path d="M389.6 82.4H492.7" fill="none" stroke="#444" stroke-width="0.9"/>
<text class="tk" x="387.4" y="29.7" text-anchor="end">10<tspan dy="-1.4" font-size="2.6">5</tspan></text>
<text class="tk" x="389.6" y="137.5" text-anchor="middle">10<tspan dy="-1.4" font-size="2.6">1</tspan></text>
<text class="tk" x="387.4" y="55.4" text-anchor="end">10<tspan dy="-1.4" font-size="2.6">4</tspan></text>
<text class="tk" x="415.4" y="137.5" text-anchor="middle">10<tspan dy="-1.4" font-size="2.6">2</tspan></text>
<text class="tk" x="387.4" y="81.1" text-anchor="end">10<tspan dy="-1.4" font-size="2.6">3</tspan></text>
<text class="tk" x="441.1" y="137.5" text-anchor="middle">10<tspan dy="-1.4" font-size="2.6">3</tspan></text>
<text class="tk" x="387.4" y="106.8" text-anchor="end">10<tspan dy="-1.4" font-size="2.6">2</tspan></text>
<text class="tk" x="466.9" y="137.5" text-anchor="middle">10<tspan dy="-1.4" font-size="2.6">4</tspan></text>
<text class="tk" x="387.4" y="132.5" text-anchor="end">10<tspan dy="-1.4" font-size="2.6">1</tspan></text>
<text class="tk" x="492.7" y="137.5" text-anchor="middle">10<tspan dy="-1.4" font-size="2.6">5</tspan></text>
<text x="278.3" y="23" font-size="10.3" textLength="74" lengthAdjust="spacingAndGlyphs" fill="#1a1a1a">Primary recipient</text>
<text x="394.5" y="23" font-size="10.3" textLength="85.5" lengthAdjust="spacingAndGlyphs" fill="#1a1a1a">Secondary recipient</text>
<path d="M247.1 146.3V92M246.5 145.7H300" fill="none" stroke="#000" stroke-width="1.4"/>
<path d="M247.1 87.5L250.3 94H243.9Z" fill="#000"/><path d="M305.2 145.7L298.7 142.5V148.9Z" fill="#000"/>
<text class="se" transform="translate(243.6 143.5) rotate(-90)" font-size="10" textLength="38.5" lengthAdjust="spacingAndGlyphs">ZsGreen</text>
<text class="b" x="260" y="154.6" font-size="8.5" textLength="17.8" lengthAdjust="spacingAndGlyphs">Dapi</text>
<path d="M14.9 536.6V482M14.3 536H68" fill="none" stroke="#000" stroke-width="1.4"/>
<path d="M14.9 477.5L18.1 484H11.7Z" fill="#000"/><path d="M73 536L66.5 532.8V539.2Z" fill="#000"/>
<text class="b" transform="translate(11.6 531) rotate(-90)" font-size="9" textLength="31.5" lengthAdjust="spacingAndGlyphs">ZsGreen</text>
<text class="b" x="22" y="545.2" font-size="8.5" textLength="29.2" lengthAdjust="spacingAndGlyphs">Marker</text>
<text class="se" x="7.9" y="13.3" font-size="13.3" textLength="15.4" lengthAdjust="spacingAndGlyphs">(a)</text>
<text class="se" x="8.3" y="151.5" font-size="13.3" textLength="17.3" lengthAdjust="spacingAndGlyphs">(b)</text>
<text x="44.6" y="38.3" font-size="9.9" textLength="73" lengthAdjust="spacingAndGlyphs" fill="#1a1a1a">Primary recipient</text>
<text x="115.8" y="57.4" font-size="9.9" textLength="45.3" lengthAdjust="spacingAndGlyphs" fill="#1a1a1a">ML23 cells</text>
<text x="157.6" y="84.3" font-size="9.9" textLength="83.8" lengthAdjust="spacingAndGlyphs" fill="#1a1a1a">Secondary recipient</text>
<g transform="translate(48.2 63) scale(1)"><path d="M3.9 19.4C3.4 14.8 6 9.8 11 6.6C16 3.9 22 3.4 26.6 4.2C26.3 2.2 27.2 0.9 29 0.6C31 0.4 32.4 1.6 32.6 3.4C36 3.8 40.5 5 43.6 6.9C45 7.6 45.6 8.3 45.4 8.9C45.2 9.7 43.6 10 41.8 10.3C40.2 10.9 38.6 11.5 37.8 12.4C38.8 12.9 39.3 13.6 38.9 14.1C38.4 14.6 37.4 14.3 36.6 14.2C37.4 15.2 37.6 16.2 36.9 16.6C36 17 34.6 16.2 33.6 15.2C32.8 16.8 31 18.2 28.6 18.9C27.2 19.4 25.8 19.8 25.2 20.4C26.6 20.6 27.8 21 27.6 21.7C27.4 22.4 25 22.4 22 22.4H7.5C5.4 22.3 4.1 21.2 3.9 19.4Z" fill="#000"/><path d="M6 21C3 21.3 0.6 22.6 1 24C1.6 25.7 8 26.1 16 25.9C22 25.8 28 25.5 33.5 25.9" fill="none" stroke="#000" stroke-width="1.1" stroke-linecap="round"/><path d="M44 8.5L47 4.5M44 8.8L48 7.5M43.6 9.4L47.5 12.5M43 9.6L45.5 14" stroke="#bbb" stroke-width="0.4" fill="none"/></g>
<g transform="translate(167.2 96.3) scale(1)"><path d="M3.9 19.4C3.4 14.8 6 9.8 11 6.6C16 3.9 22 3.4 26.6 4.2C26.3 2.2 27.2 0.9 29 0.6C31 0.4 32.4 1.6 32.6 3.4C36 3.8 40.5 5 43.6 6.9C45 7.6 45.6 8.3 45.4 8.9C45.2 9.7 43.6 10 41.8 10.3C40.2 10.9 38.6 11.5 37.8 12.4C38.8 12.9 39.3 13.6 38.9 14.1C38.4 14.6 37.4 14.3 36.6 14.2C37.4 15.2 37.6 16.2 36.9 16.6C36 17 34.6 16.2 33.6 15.2C32.8 16.8 31 18.2 28.6 18.9C27.2 19.4 25.8 19.8 25.2 20.4C26.6 20.6 27.8 21 27.6 21.7C27.4 22.4 25 22.4 22 22.4H7.5C5.4 22.3 4.1 21.2 3.9 19.4Z" fill="#000"/><path d="M6 21C3 21.3 0.6 22.6 1 24C1.6 25.7 8 26.1 16 25.9C22 25.8 28 25.5 33.5 25.9" fill="none" stroke="#000" stroke-width="1.1" stroke-linecap="round"/><path d="M44 8.5L47 4.5M44 8.8L48 7.5M43.6 9.4L47.5 12.5M43 9.6L45.5 14" stroke="#bbb" stroke-width="0.4" fill="none"/></g>
<path d="M72 83.8H98" stroke="#7f9bd6" stroke-width="0.9" fill="none"/><path d="M102.6 83.8L97 81.3V86.3Z" fill="#4472c4"/>
<path d="M124 87.2L151.5 105.6" stroke="#7f9bd6" stroke-width="0.9" fill="none"/><path d="M155 108L148.9 106.8L151.7 102.6Z" fill="#4472c4"/>
<path d="M125.6 60.0L126.9 63.9L129.3 62.2L129.1 65.1L132.7 64.5L130.3 67.3L132.7 68.6L130.3 69.9L133.0 72.9L129.1 72.1L129.4 75.2L126.9 73.3L125.6 76.9L124.3 73.3L122.0 74.9L122.1 72.1L118.2 72.9L120.9 69.9L118.2 68.6L120.9 67.3L118.6 64.6L122.1 65.1L121.9 62.3L124.3 63.9Z" fill="#2f66c8" stroke="#27509c" stroke-width="0.5" stroke-linejoin="round"/>
<path d="M116.8 73.4L117.6 77.4L120.2 76.0L119.7 78.9L123.3 78.6L120.7 81.2L122.9 82.7L120.5 83.7L122.9 87.0L119.0 85.8L119.0 88.9L116.7 86.8L115.1 90.2L114.2 86.6L111.7 87.9L112.1 85.1L108.1 85.5L111.1 82.8L108.5 81.3L111.3 80.3L109.3 77.3L112.8 78.2L112.9 75.3L115.1 77.2Z" fill="#2f66c8" stroke="#27509c" stroke-width="0.5" stroke-linejoin="round"/>
<path d="M135.1 73.2L136.8 77.0L139.0 75.1L139.1 78.0L142.6 77.0L140.6 80.1L143.0 81.1L140.8 82.6L143.8 85.3L139.8 84.9L140.4 87.9L137.7 86.4L136.8 90.0L135.2 86.6L133.0 88.4L132.9 85.6L129.0 86.8L131.4 83.5L128.6 82.5L131.2 81.0L128.6 78.5L132.2 78.7L131.7 75.9L134.3 77.2Z" fill="#2f66c8" stroke="#27509c" stroke-width="0.5" stroke-linejoin="round"/>
<g transform="translate(125.2 125) rotate(-11.6)"><rect x="0" y="-2.2" width="1.6" height="4.4" fill="#777"/><rect x="1.4" y="-0.9" width="6.5" height="1.8" fill="#999"/><rect x="7.6" y="-2.6" width="1.5" height="5.2" fill="#555"/><rect x="9" y="-1.7" width="25.5" height="3.4" rx="0.6" fill="#4a4a4a"/><rect x="10.5" y="-1.1" width="12" height="0.9" fill="#aaa"/><rect x="21" y="-1.6" width="4" height="3.2" fill="#111"/><rect x="25" y="-1.5" width="8.5" height="3" fill="#9a6fc0"/><rect x="34.5" y="-0.9" width="2" height="1.8" fill="#777"/><rect x="36.5" y="-0.25" width="4" height="0.5" fill="#aaa"/></g>
</svg></body></html>
